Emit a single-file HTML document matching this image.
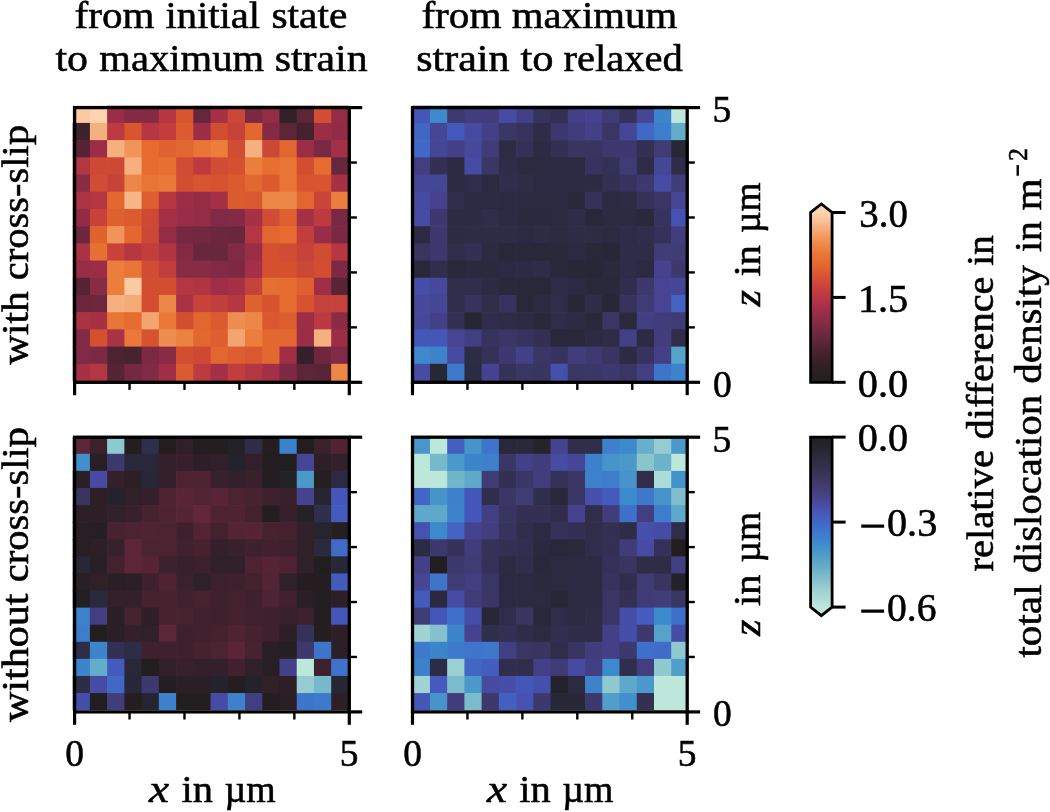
<!DOCTYPE html>
<html><head><meta charset="utf-8"><title>figure</title>
<style>html,body{margin:0;padding:0;background:#fff}svg{display:block}text{font-family:"Liberation Serif",serif;fill:#000;stroke:#000;stroke-width:0.55px}</style></head>
<body>
<svg width="1050" height="812" viewBox="0 0 1050 812">
<rect width="1050" height="812" fill="#fff"/>
<defs>
<linearGradient id="gf" x1="0" y1="0" x2="0" y2="1"><stop offset="0.000" stop-color="#fdd3b0"/><stop offset="0.025" stop-color="#fbcaa4"/><stop offset="0.050" stop-color="#f9c097"/><stop offset="0.075" stop-color="#f7b688"/><stop offset="0.100" stop-color="#f5ab78"/><stop offset="0.125" stop-color="#f3a068"/><stop offset="0.150" stop-color="#f19659"/><stop offset="0.175" stop-color="#f08e4f"/><stop offset="0.200" stop-color="#ee8545"/><stop offset="0.225" stop-color="#ec7d3d"/><stop offset="0.250" stop-color="#e97535"/><stop offset="0.275" stop-color="#e77032"/><stop offset="0.300" stop-color="#e56a30"/><stop offset="0.325" stop-color="#e26231"/><stop offset="0.350" stop-color="#de5a32"/><stop offset="0.375" stop-color="#d95235"/><stop offset="0.400" stop-color="#d44b38"/><stop offset="0.425" stop-color="#ce453b"/><stop offset="0.450" stop-color="#c93f3e"/><stop offset="0.475" stop-color="#c23b43"/><stop offset="0.500" stop-color="#bb3748"/><stop offset="0.525" stop-color="#b23348"/><stop offset="0.550" stop-color="#a92f49"/><stop offset="0.575" stop-color="#a12e49"/><stop offset="0.600" stop-color="#982c49"/><stop offset="0.625" stop-color="#8e2c48"/><stop offset="0.650" stop-color="#852b46"/><stop offset="0.675" stop-color="#7c2a44"/><stop offset="0.700" stop-color="#722a41"/><stop offset="0.725" stop-color="#69283e"/><stop offset="0.750" stop-color="#60273a"/><stop offset="0.775" stop-color="#582636"/><stop offset="0.800" stop-color="#4f2432"/><stop offset="0.825" stop-color="#47232e"/><stop offset="0.850" stop-color="#3f222b"/><stop offset="0.875" stop-color="#382128"/><stop offset="0.900" stop-color="#322025"/><stop offset="0.925" stop-color="#2d2023"/><stop offset="0.950" stop-color="#282021"/><stop offset="0.975" stop-color="#242020"/><stop offset="1.000" stop-color="#211f1f"/></linearGradient>
<linearGradient id="gi" x1="0" y1="0" x2="0" y2="1"><stop offset="0.000" stop-color="#222124"/><stop offset="0.025" stop-color="#242228"/><stop offset="0.050" stop-color="#25242c"/><stop offset="0.075" stop-color="#282632"/><stop offset="0.100" stop-color="#2a2937"/><stop offset="0.125" stop-color="#2d2c3e"/><stop offset="0.150" stop-color="#302e45"/><stop offset="0.175" stop-color="#33304c"/><stop offset="0.200" stop-color="#363353"/><stop offset="0.225" stop-color="#39365a"/><stop offset="0.250" stop-color="#3c3862"/><stop offset="0.275" stop-color="#403a6b"/><stop offset="0.300" stop-color="#433d74"/><stop offset="0.325" stop-color="#46407f"/><stop offset="0.350" stop-color="#48438a"/><stop offset="0.375" stop-color="#494897"/><stop offset="0.400" stop-color="#4a4ca4"/><stop offset="0.425" stop-color="#4852b0"/><stop offset="0.450" stop-color="#4659bb"/><stop offset="0.475" stop-color="#4460c0"/><stop offset="0.500" stop-color="#4166c6"/><stop offset="0.525" stop-color="#3e6eca"/><stop offset="0.550" stop-color="#3c76cd"/><stop offset="0.575" stop-color="#3c7dcd"/><stop offset="0.600" stop-color="#3b84cd"/><stop offset="0.625" stop-color="#3f8acc"/><stop offset="0.650" stop-color="#4391cb"/><stop offset="0.675" stop-color="#4a97ca"/><stop offset="0.700" stop-color="#529dc9"/><stop offset="0.725" stop-color="#5aa3c9"/><stop offset="0.750" stop-color="#63a9c9"/><stop offset="0.775" stop-color="#6cafca"/><stop offset="0.800" stop-color="#76b5ca"/><stop offset="0.825" stop-color="#80bccc"/><stop offset="0.850" stop-color="#8bc2cd"/><stop offset="0.875" stop-color="#95c9d0"/><stop offset="0.900" stop-color="#9fd0d2"/><stop offset="0.925" stop-color="#a6d6d4"/><stop offset="0.950" stop-color="#aedbd7"/><stop offset="0.975" stop-color="#b6e1d9"/><stop offset="1.000" stop-color="#bde7db"/></linearGradient>
</defs>
<g>
<rect x="72.66" y="105.70" width="17.94" height="17.91" fill="#fbc9a2"/>
<rect x="89.90" y="105.70" width="17.94" height="17.91" fill="#fdd3b0"/>
<rect x="107.13" y="105.70" width="17.94" height="17.91" fill="#9c2d47"/>
<rect x="124.37" y="105.70" width="17.94" height="17.91" fill="#842a45"/>
<rect x="141.60" y="105.70" width="17.94" height="17.91" fill="#842a45"/>
<rect x="158.84" y="105.70" width="17.94" height="17.91" fill="#b63742"/>
<rect x="176.08" y="105.70" width="17.94" height="17.91" fill="#d8552f"/>
<rect x="193.31" y="105.70" width="17.94" height="17.91" fill="#66263c"/>
<rect x="210.55" y="105.70" width="17.94" height="17.91" fill="#a63145"/>
<rect x="227.78" y="105.70" width="17.94" height="17.91" fill="#cb4736"/>
<rect x="245.02" y="105.70" width="17.94" height="17.91" fill="#7a2944"/>
<rect x="262.26" y="105.70" width="17.94" height="17.91" fill="#952c46"/>
<rect x="279.49" y="105.70" width="17.94" height="17.91" fill="#302028"/>
<rect x="296.73" y="105.70" width="17.94" height="17.91" fill="#5d2538"/>
<rect x="313.96" y="105.70" width="17.94" height="17.91" fill="#d34e31"/>
<rect x="331.20" y="105.70" width="17.24" height="17.91" fill="#952c46"/>
<rect x="72.66" y="122.91" width="17.94" height="17.91" fill="#3d212c"/>
<rect x="89.90" y="122.91" width="17.94" height="17.91" fill="#f6b080"/>
<rect x="107.13" y="122.91" width="17.94" height="17.91" fill="#bd3a41"/>
<rect x="124.37" y="122.91" width="17.94" height="17.91" fill="#d8552f"/>
<rect x="141.60" y="122.91" width="17.94" height="17.91" fill="#b63742"/>
<rect x="158.84" y="122.91" width="17.94" height="17.91" fill="#c23e3d"/>
<rect x="176.08" y="122.91" width="17.94" height="17.91" fill="#db5b2f"/>
<rect x="193.31" y="122.91" width="17.94" height="17.91" fill="#9c2d47"/>
<rect x="210.55" y="122.91" width="17.94" height="17.91" fill="#d34e31"/>
<rect x="227.78" y="122.91" width="17.94" height="17.91" fill="#c7433a"/>
<rect x="245.02" y="122.91" width="17.94" height="17.91" fill="#e3682f"/>
<rect x="262.26" y="122.91" width="17.94" height="17.91" fill="#842a45"/>
<rect x="279.49" y="122.91" width="17.94" height="17.91" fill="#5d2538"/>
<rect x="296.73" y="122.91" width="17.94" height="17.91" fill="#43222e"/>
<rect x="313.96" y="122.91" width="17.94" height="17.91" fill="#9c2d47"/>
<rect x="331.20" y="122.91" width="17.24" height="17.91" fill="#922c46"/>
<rect x="72.66" y="140.11" width="17.94" height="17.91" fill="#562435"/>
<rect x="89.90" y="140.11" width="17.94" height="17.91" fill="#9c2d47"/>
<rect x="107.13" y="140.11" width="17.94" height="17.91" fill="#f6b080"/>
<rect x="124.37" y="140.11" width="17.94" height="17.91" fill="#f09459"/>
<rect x="141.60" y="140.11" width="17.94" height="17.91" fill="#e56b2f"/>
<rect x="158.84" y="140.11" width="17.94" height="17.91" fill="#e0632f"/>
<rect x="176.08" y="140.11" width="17.94" height="17.91" fill="#e2662f"/>
<rect x="193.31" y="140.11" width="17.94" height="17.91" fill="#e87436"/>
<rect x="210.55" y="140.11" width="17.94" height="17.91" fill="#eb7d3d"/>
<rect x="227.78" y="140.11" width="17.94" height="17.91" fill="#d04c33"/>
<rect x="245.02" y="140.11" width="17.94" height="17.91" fill="#f6b080"/>
<rect x="262.26" y="140.11" width="17.94" height="17.91" fill="#cb4736"/>
<rect x="279.49" y="140.11" width="17.94" height="17.91" fill="#e2662f"/>
<rect x="296.73" y="140.11" width="17.94" height="17.91" fill="#9c2d47"/>
<rect x="313.96" y="140.11" width="17.94" height="17.91" fill="#7a2944"/>
<rect x="331.20" y="140.11" width="17.24" height="17.91" fill="#a33046"/>
<rect x="72.66" y="157.32" width="17.94" height="17.91" fill="#b33643"/>
<rect x="89.90" y="157.32" width="17.94" height="17.91" fill="#ce4934"/>
<rect x="107.13" y="157.32" width="17.94" height="17.91" fill="#ce4934"/>
<rect x="124.37" y="157.32" width="17.94" height="17.91" fill="#f6b080"/>
<rect x="141.60" y="157.32" width="17.94" height="17.91" fill="#e56b2f"/>
<rect x="158.84" y="157.32" width="17.94" height="17.91" fill="#e66f32"/>
<rect x="176.08" y="157.32" width="17.94" height="17.91" fill="#d04c33"/>
<rect x="193.31" y="157.32" width="17.94" height="17.91" fill="#bd3a41"/>
<rect x="210.55" y="157.32" width="17.94" height="17.91" fill="#d04c33"/>
<rect x="227.78" y="157.32" width="17.94" height="17.91" fill="#d5502f"/>
<rect x="245.02" y="157.32" width="17.94" height="17.91" fill="#eb7d3d"/>
<rect x="262.26" y="157.32" width="17.94" height="17.91" fill="#e66f32"/>
<rect x="279.49" y="157.32" width="17.94" height="17.91" fill="#e87436"/>
<rect x="296.73" y="157.32" width="17.94" height="17.91" fill="#d34e31"/>
<rect x="313.96" y="157.32" width="17.94" height="17.91" fill="#e56b2f"/>
<rect x="331.20" y="157.32" width="17.24" height="17.91" fill="#66263c"/>
<rect x="72.66" y="174.53" width="17.94" height="17.91" fill="#8b2b46"/>
<rect x="89.90" y="174.53" width="17.94" height="17.91" fill="#d04c33"/>
<rect x="107.13" y="174.53" width="17.94" height="17.91" fill="#c7433a"/>
<rect x="124.37" y="174.53" width="17.94" height="17.91" fill="#ed8748"/>
<rect x="141.60" y="174.53" width="17.94" height="17.91" fill="#e87436"/>
<rect x="158.84" y="174.53" width="17.94" height="17.91" fill="#e97839"/>
<rect x="176.08" y="174.53" width="17.94" height="17.91" fill="#d34e31"/>
<rect x="193.31" y="174.53" width="17.94" height="17.91" fill="#d8552f"/>
<rect x="210.55" y="174.53" width="17.94" height="17.91" fill="#d7532f"/>
<rect x="227.78" y="174.53" width="17.94" height="17.91" fill="#db5b2f"/>
<rect x="245.02" y="174.53" width="17.94" height="17.91" fill="#e3682f"/>
<rect x="262.26" y="174.53" width="17.94" height="17.91" fill="#db5b2f"/>
<rect x="279.49" y="174.53" width="17.94" height="17.91" fill="#e87436"/>
<rect x="296.73" y="174.53" width="17.94" height="17.91" fill="#d8552f"/>
<rect x="313.96" y="174.53" width="17.94" height="17.91" fill="#d8552f"/>
<rect x="331.20" y="174.53" width="17.24" height="17.91" fill="#a63145"/>
<rect x="72.66" y="191.74" width="17.94" height="17.91" fill="#ac3444"/>
<rect x="89.90" y="191.74" width="17.94" height="17.91" fill="#b33643"/>
<rect x="107.13" y="191.74" width="17.94" height="17.91" fill="#e3682f"/>
<rect x="124.37" y="191.74" width="17.94" height="17.91" fill="#f7b687"/>
<rect x="141.60" y="191.74" width="17.94" height="17.91" fill="#dd5e2f"/>
<rect x="158.84" y="191.74" width="17.94" height="17.91" fill="#b63742"/>
<rect x="176.08" y="191.74" width="17.94" height="17.91" fill="#9c2d47"/>
<rect x="193.31" y="191.74" width="17.94" height="17.91" fill="#952c46"/>
<rect x="210.55" y="191.74" width="17.94" height="17.91" fill="#a33046"/>
<rect x="227.78" y="191.74" width="17.94" height="17.91" fill="#db5b2f"/>
<rect x="245.02" y="191.74" width="17.94" height="17.91" fill="#da582f"/>
<rect x="262.26" y="191.74" width="17.94" height="17.91" fill="#ed8748"/>
<rect x="279.49" y="191.74" width="17.94" height="17.91" fill="#ed8748"/>
<rect x="296.73" y="191.74" width="17.94" height="17.91" fill="#e2662f"/>
<rect x="313.96" y="191.74" width="17.94" height="17.91" fill="#c94538"/>
<rect x="331.20" y="191.74" width="17.24" height="17.91" fill="#eb7d3d"/>
<rect x="72.66" y="208.94" width="17.94" height="17.91" fill="#922c46"/>
<rect x="89.90" y="208.94" width="17.94" height="17.91" fill="#c7433a"/>
<rect x="107.13" y="208.94" width="17.94" height="17.91" fill="#df602f"/>
<rect x="124.37" y="208.94" width="17.94" height="17.91" fill="#db5b2f"/>
<rect x="141.60" y="208.94" width="17.94" height="17.91" fill="#ce4934"/>
<rect x="158.84" y="208.94" width="17.94" height="17.91" fill="#a33046"/>
<rect x="176.08" y="208.94" width="17.94" height="17.91" fill="#992d47"/>
<rect x="193.31" y="208.94" width="17.94" height="17.91" fill="#952c46"/>
<rect x="210.55" y="208.94" width="17.94" height="17.91" fill="#812a45"/>
<rect x="227.78" y="208.94" width="17.94" height="17.91" fill="#842a45"/>
<rect x="245.02" y="208.94" width="17.94" height="17.91" fill="#a63145"/>
<rect x="262.26" y="208.94" width="17.94" height="17.91" fill="#d04c33"/>
<rect x="279.49" y="208.94" width="17.94" height="17.91" fill="#df602f"/>
<rect x="296.73" y="208.94" width="17.94" height="17.91" fill="#a63145"/>
<rect x="313.96" y="208.94" width="17.94" height="17.91" fill="#bd3a41"/>
<rect x="331.20" y="208.94" width="17.24" height="17.91" fill="#7a2944"/>
<rect x="72.66" y="226.15" width="17.94" height="17.91" fill="#6c273e"/>
<rect x="89.90" y="226.15" width="17.94" height="17.91" fill="#e0632f"/>
<rect x="107.13" y="226.15" width="17.94" height="17.91" fill="#f09459"/>
<rect x="124.37" y="226.15" width="17.94" height="17.91" fill="#e3682f"/>
<rect x="141.60" y="226.15" width="17.94" height="17.91" fill="#cb4736"/>
<rect x="158.84" y="226.15" width="17.94" height="17.91" fill="#952c46"/>
<rect x="176.08" y="226.15" width="17.94" height="17.91" fill="#742842"/>
<rect x="193.31" y="226.15" width="17.94" height="17.91" fill="#712840"/>
<rect x="210.55" y="226.15" width="17.94" height="17.91" fill="#6c273e"/>
<rect x="227.78" y="226.15" width="17.94" height="17.91" fill="#69273d"/>
<rect x="245.02" y="226.15" width="17.94" height="17.91" fill="#b33643"/>
<rect x="262.26" y="226.15" width="17.94" height="17.91" fill="#e2662f"/>
<rect x="279.49" y="226.15" width="17.94" height="17.91" fill="#e56b2f"/>
<rect x="296.73" y="226.15" width="17.94" height="17.91" fill="#c23e3d"/>
<rect x="313.96" y="226.15" width="17.94" height="17.91" fill="#992d47"/>
<rect x="331.20" y="226.15" width="17.24" height="17.91" fill="#7a2944"/>
<rect x="72.66" y="243.36" width="17.94" height="17.91" fill="#a93245"/>
<rect x="89.90" y="243.36" width="17.94" height="17.91" fill="#e66f32"/>
<rect x="107.13" y="243.36" width="17.94" height="17.91" fill="#c7433a"/>
<rect x="124.37" y="243.36" width="17.94" height="17.91" fill="#b63742"/>
<rect x="141.60" y="243.36" width="17.94" height="17.91" fill="#c23e3d"/>
<rect x="158.84" y="243.36" width="17.94" height="17.91" fill="#b03543"/>
<rect x="176.08" y="243.36" width="17.94" height="17.91" fill="#842a45"/>
<rect x="193.31" y="243.36" width="17.94" height="17.91" fill="#69273d"/>
<rect x="210.55" y="243.36" width="17.94" height="17.91" fill="#69273d"/>
<rect x="227.78" y="243.36" width="17.94" height="17.91" fill="#812a45"/>
<rect x="245.02" y="243.36" width="17.94" height="17.91" fill="#9c2d47"/>
<rect x="262.26" y="243.36" width="17.94" height="17.91" fill="#d5502f"/>
<rect x="279.49" y="243.36" width="17.94" height="17.91" fill="#d04c33"/>
<rect x="296.73" y="243.36" width="17.94" height="17.91" fill="#c7433a"/>
<rect x="313.96" y="243.36" width="17.94" height="17.91" fill="#d04c33"/>
<rect x="331.20" y="243.36" width="17.24" height="17.91" fill="#b63742"/>
<rect x="72.66" y="260.56" width="17.94" height="17.91" fill="#992d47"/>
<rect x="89.90" y="260.56" width="17.94" height="17.91" fill="#9c2d47"/>
<rect x="107.13" y="260.56" width="17.94" height="17.91" fill="#eb7d3d"/>
<rect x="124.37" y="260.56" width="17.94" height="17.91" fill="#e87436"/>
<rect x="141.60" y="260.56" width="17.94" height="17.91" fill="#d04c33"/>
<rect x="158.84" y="260.56" width="17.94" height="17.91" fill="#c23e3d"/>
<rect x="176.08" y="260.56" width="17.94" height="17.91" fill="#882b45"/>
<rect x="193.31" y="260.56" width="17.94" height="17.91" fill="#882b45"/>
<rect x="210.55" y="260.56" width="17.94" height="17.91" fill="#812a45"/>
<rect x="227.78" y="260.56" width="17.94" height="17.91" fill="#7d2944"/>
<rect x="245.02" y="260.56" width="17.94" height="17.91" fill="#a33046"/>
<rect x="262.26" y="260.56" width="17.94" height="17.91" fill="#d5502f"/>
<rect x="279.49" y="260.56" width="17.94" height="17.91" fill="#d5502f"/>
<rect x="296.73" y="260.56" width="17.94" height="17.91" fill="#cb4736"/>
<rect x="313.96" y="260.56" width="17.94" height="17.91" fill="#d34e31"/>
<rect x="331.20" y="260.56" width="17.24" height="17.91" fill="#7d2944"/>
<rect x="72.66" y="277.77" width="17.94" height="17.91" fill="#562435"/>
<rect x="89.90" y="277.77" width="17.94" height="17.91" fill="#882b45"/>
<rect x="107.13" y="277.77" width="17.94" height="17.91" fill="#eb7d3d"/>
<rect x="124.37" y="277.77" width="17.94" height="17.91" fill="#fbc9a2"/>
<rect x="141.60" y="277.77" width="17.94" height="17.91" fill="#d34e31"/>
<rect x="158.84" y="277.77" width="17.94" height="17.91" fill="#d34e31"/>
<rect x="176.08" y="277.77" width="17.94" height="17.91" fill="#b33643"/>
<rect x="193.31" y="277.77" width="17.94" height="17.91" fill="#b03543"/>
<rect x="210.55" y="277.77" width="17.94" height="17.91" fill="#9f2e46"/>
<rect x="227.78" y="277.77" width="17.94" height="17.91" fill="#a63145"/>
<rect x="245.02" y="277.77" width="17.94" height="17.91" fill="#c4413c"/>
<rect x="262.26" y="277.77" width="17.94" height="17.91" fill="#e66f32"/>
<rect x="279.49" y="277.77" width="17.94" height="17.91" fill="#e56b2f"/>
<rect x="296.73" y="277.77" width="17.94" height="17.91" fill="#df602f"/>
<rect x="313.96" y="277.77" width="17.94" height="17.91" fill="#9f2e46"/>
<rect x="331.20" y="277.77" width="17.24" height="17.91" fill="#592436"/>
<rect x="72.66" y="294.98" width="17.94" height="17.91" fill="#6c273e"/>
<rect x="89.90" y="294.98" width="17.94" height="17.91" fill="#6e273f"/>
<rect x="107.13" y="294.98" width="17.94" height="17.91" fill="#f6b080"/>
<rect x="124.37" y="294.98" width="17.94" height="17.91" fill="#f4ab78"/>
<rect x="141.60" y="294.98" width="17.94" height="17.91" fill="#d34e31"/>
<rect x="158.84" y="294.98" width="17.94" height="17.91" fill="#ed8748"/>
<rect x="176.08" y="294.98" width="17.94" height="17.91" fill="#a93245"/>
<rect x="193.31" y="294.98" width="17.94" height="17.91" fill="#c7433a"/>
<rect x="210.55" y="294.98" width="17.94" height="17.91" fill="#c23e3d"/>
<rect x="227.78" y="294.98" width="17.94" height="17.91" fill="#b63742"/>
<rect x="245.02" y="294.98" width="17.94" height="17.91" fill="#e0632f"/>
<rect x="262.26" y="294.98" width="17.94" height="17.91" fill="#d7532f"/>
<rect x="279.49" y="294.98" width="17.94" height="17.91" fill="#e56b2f"/>
<rect x="296.73" y="294.98" width="17.94" height="17.91" fill="#d7532f"/>
<rect x="313.96" y="294.98" width="17.94" height="17.91" fill="#c4413c"/>
<rect x="331.20" y="294.98" width="17.24" height="17.91" fill="#c4413c"/>
<rect x="72.66" y="312.18" width="17.94" height="17.91" fill="#a93245"/>
<rect x="89.90" y="312.18" width="17.94" height="17.91" fill="#a63145"/>
<rect x="107.13" y="312.18" width="17.94" height="17.91" fill="#e87436"/>
<rect x="124.37" y="312.18" width="17.94" height="17.91" fill="#e56b2f"/>
<rect x="141.60" y="312.18" width="17.94" height="17.91" fill="#f3a571"/>
<rect x="158.84" y="312.18" width="17.94" height="17.91" fill="#e97839"/>
<rect x="176.08" y="312.18" width="17.94" height="17.91" fill="#d34e31"/>
<rect x="193.31" y="312.18" width="17.94" height="17.91" fill="#e2662f"/>
<rect x="210.55" y="312.18" width="17.94" height="17.91" fill="#db5b2f"/>
<rect x="227.78" y="312.18" width="17.94" height="17.91" fill="#ee8d51"/>
<rect x="245.02" y="312.18" width="17.94" height="17.91" fill="#ed8748"/>
<rect x="262.26" y="312.18" width="17.94" height="17.91" fill="#da582f"/>
<rect x="279.49" y="312.18" width="17.94" height="17.91" fill="#dd5e2f"/>
<rect x="296.73" y="312.18" width="17.94" height="17.91" fill="#9c2d47"/>
<rect x="313.96" y="312.18" width="17.94" height="17.91" fill="#ba3942"/>
<rect x="331.20" y="312.18" width="17.24" height="17.91" fill="#8b2b46"/>
<rect x="72.66" y="329.39" width="17.94" height="17.91" fill="#812a45"/>
<rect x="89.90" y="329.39" width="17.94" height="17.91" fill="#d5502f"/>
<rect x="107.13" y="329.39" width="17.94" height="17.91" fill="#a93245"/>
<rect x="124.37" y="329.39" width="17.94" height="17.91" fill="#e97839"/>
<rect x="141.60" y="329.39" width="17.94" height="17.91" fill="#d7532f"/>
<rect x="158.84" y="329.39" width="17.94" height="17.91" fill="#ee8d51"/>
<rect x="176.08" y="329.39" width="17.94" height="17.91" fill="#ec8140"/>
<rect x="193.31" y="329.39" width="17.94" height="17.91" fill="#e3682f"/>
<rect x="210.55" y="329.39" width="17.94" height="17.91" fill="#dd5e2f"/>
<rect x="227.78" y="329.39" width="17.94" height="17.91" fill="#f3a571"/>
<rect x="245.02" y="329.39" width="17.94" height="17.91" fill="#eb7d3d"/>
<rect x="262.26" y="329.39" width="17.94" height="17.91" fill="#e3682f"/>
<rect x="279.49" y="329.39" width="17.94" height="17.91" fill="#e3682f"/>
<rect x="296.73" y="329.39" width="17.94" height="17.91" fill="#9c2d47"/>
<rect x="313.96" y="329.39" width="17.94" height="17.91" fill="#f6b080"/>
<rect x="331.20" y="329.39" width="17.24" height="17.91" fill="#9c2d47"/>
<rect x="72.66" y="346.60" width="17.94" height="17.91" fill="#812a45"/>
<rect x="89.90" y="346.60" width="17.94" height="17.91" fill="#7d2944"/>
<rect x="107.13" y="346.60" width="17.94" height="17.91" fill="#4b2331"/>
<rect x="124.37" y="346.60" width="17.94" height="17.91" fill="#47222f"/>
<rect x="141.60" y="346.60" width="17.94" height="17.91" fill="#7d2944"/>
<rect x="158.84" y="346.60" width="17.94" height="17.91" fill="#882b45"/>
<rect x="176.08" y="346.60" width="17.94" height="17.91" fill="#d34e31"/>
<rect x="193.31" y="346.60" width="17.94" height="17.91" fill="#ce4934"/>
<rect x="210.55" y="346.60" width="17.94" height="17.91" fill="#e2662f"/>
<rect x="227.78" y="346.60" width="17.94" height="17.91" fill="#dd5e2f"/>
<rect x="245.02" y="346.60" width="17.94" height="17.91" fill="#da582f"/>
<rect x="262.26" y="346.60" width="17.94" height="17.91" fill="#e3682f"/>
<rect x="279.49" y="346.60" width="17.94" height="17.91" fill="#9f2e46"/>
<rect x="296.73" y="346.60" width="17.94" height="17.91" fill="#33202a"/>
<rect x="313.96" y="346.60" width="17.94" height="17.91" fill="#6e273f"/>
<rect x="331.20" y="346.60" width="17.24" height="17.91" fill="#812a45"/>
<rect x="72.66" y="363.81" width="17.94" height="17.21" fill="#a63145"/>
<rect x="89.90" y="363.81" width="17.94" height="17.21" fill="#b33643"/>
<rect x="107.13" y="363.81" width="17.94" height="17.21" fill="#562435"/>
<rect x="124.37" y="363.81" width="17.94" height="17.21" fill="#742842"/>
<rect x="141.60" y="363.81" width="17.94" height="17.21" fill="#812a45"/>
<rect x="158.84" y="363.81" width="17.94" height="17.21" fill="#9f2e46"/>
<rect x="176.08" y="363.81" width="17.94" height="17.21" fill="#db5b2f"/>
<rect x="193.31" y="363.81" width="17.94" height="17.21" fill="#bd3a41"/>
<rect x="210.55" y="363.81" width="17.94" height="17.21" fill="#a33046"/>
<rect x="227.78" y="363.81" width="17.94" height="17.21" fill="#c23e3d"/>
<rect x="245.02" y="363.81" width="17.94" height="17.21" fill="#b33643"/>
<rect x="262.26" y="363.81" width="17.94" height="17.21" fill="#a33046"/>
<rect x="279.49" y="363.81" width="17.94" height="17.21" fill="#7d2944"/>
<rect x="296.73" y="363.81" width="17.94" height="17.21" fill="#5d2538"/>
<rect x="313.96" y="363.81" width="17.94" height="17.21" fill="#592436"/>
<rect x="331.20" y="363.81" width="17.24" height="17.21" fill="#ed8748"/>
</g>
<line x1="74.60" y1="382.30" x2="74.60" y2="395.20" stroke="#000" stroke-width="3.2"/>
<line x1="349.30" y1="382.30" x2="362.20" y2="382.30" stroke="#000" stroke-width="3.2"/>
<line x1="129.54" y1="382.30" x2="129.54" y2="389.90" stroke="#000" stroke-width="2.4"/>
<line x1="349.30" y1="327.36" x2="356.90" y2="327.36" stroke="#000" stroke-width="2.4"/>
<line x1="184.48" y1="382.30" x2="184.48" y2="389.90" stroke="#000" stroke-width="2.4"/>
<line x1="349.30" y1="272.42" x2="356.90" y2="272.42" stroke="#000" stroke-width="2.4"/>
<line x1="239.42" y1="382.30" x2="239.42" y2="389.90" stroke="#000" stroke-width="2.4"/>
<line x1="349.30" y1="217.48" x2="356.90" y2="217.48" stroke="#000" stroke-width="2.4"/>
<line x1="294.36" y1="382.30" x2="294.36" y2="389.90" stroke="#000" stroke-width="2.4"/>
<line x1="349.30" y1="162.54" x2="356.90" y2="162.54" stroke="#000" stroke-width="2.4"/>
<line x1="349.30" y1="382.30" x2="349.30" y2="395.20" stroke="#000" stroke-width="3.2"/>
<line x1="349.30" y1="107.60" x2="362.20" y2="107.60" stroke="#000" stroke-width="3.2"/>
<rect x="74.6" y="107.6" width="274.7" height="274.7" fill="none" stroke="#000" stroke-width="3.3"/>
<g>
<rect x="412.70" y="105.70" width="17.94" height="17.91" fill="#4556b9"/>
<rect x="429.94" y="105.70" width="17.94" height="17.91" fill="#3c8acb"/>
<rect x="447.17" y="105.70" width="17.94" height="17.91" fill="#3e3a71"/>
<rect x="464.41" y="105.70" width="17.94" height="17.91" fill="#423e7e"/>
<rect x="481.64" y="105.70" width="17.94" height="17.91" fill="#413d7b"/>
<rect x="498.88" y="105.70" width="17.94" height="17.91" fill="#464ca4"/>
<rect x="516.12" y="105.70" width="17.94" height="17.91" fill="#444088"/>
<rect x="533.35" y="105.70" width="17.94" height="17.91" fill="#36345e"/>
<rect x="550.59" y="105.70" width="17.94" height="17.91" fill="#333054"/>
<rect x="567.82" y="105.70" width="17.94" height="17.91" fill="#444088"/>
<rect x="585.06" y="105.70" width="17.94" height="17.91" fill="#46428f"/>
<rect x="602.30" y="105.70" width="17.94" height="17.91" fill="#3f3b75"/>
<rect x="619.53" y="105.70" width="17.94" height="17.91" fill="#35325a"/>
<rect x="636.77" y="105.70" width="17.94" height="17.91" fill="#464697"/>
<rect x="654.00" y="105.70" width="17.94" height="17.91" fill="#3d85cb"/>
<rect x="671.24" y="105.70" width="17.24" height="17.91" fill="#bde7db"/>
<rect x="412.70" y="122.91" width="17.94" height="17.91" fill="#4166c4"/>
<rect x="429.94" y="122.91" width="17.94" height="17.91" fill="#464697"/>
<rect x="447.17" y="122.91" width="17.94" height="17.91" fill="#4459bb"/>
<rect x="464.41" y="122.91" width="17.94" height="17.91" fill="#464aa0"/>
<rect x="481.64" y="122.91" width="17.94" height="17.91" fill="#444088"/>
<rect x="498.88" y="122.91" width="17.94" height="17.91" fill="#3a3767"/>
<rect x="516.12" y="122.91" width="17.94" height="17.91" fill="#36345e"/>
<rect x="533.35" y="122.91" width="17.94" height="17.91" fill="#2e2c47"/>
<rect x="550.59" y="122.91" width="17.94" height="17.91" fill="#3d396e"/>
<rect x="567.82" y="122.91" width="17.94" height="17.91" fill="#413d7b"/>
<rect x="585.06" y="122.91" width="17.94" height="17.91" fill="#444088"/>
<rect x="602.30" y="122.91" width="17.94" height="17.91" fill="#393664"/>
<rect x="619.53" y="122.91" width="17.94" height="17.91" fill="#464697"/>
<rect x="636.77" y="122.91" width="17.94" height="17.91" fill="#4168c6"/>
<rect x="654.00" y="122.91" width="17.94" height="17.91" fill="#3e7dcb"/>
<rect x="671.24" y="122.91" width="17.24" height="17.91" fill="#63acca"/>
<rect x="412.70" y="140.11" width="17.94" height="17.91" fill="#4168c6"/>
<rect x="429.94" y="140.11" width="17.94" height="17.91" fill="#464697"/>
<rect x="447.17" y="140.11" width="17.94" height="17.91" fill="#444088"/>
<rect x="464.41" y="140.11" width="17.94" height="17.91" fill="#46489c"/>
<rect x="481.64" y="140.11" width="17.94" height="17.91" fill="#403c78"/>
<rect x="498.88" y="140.11" width="17.94" height="17.91" fill="#2d2c45"/>
<rect x="516.12" y="140.11" width="17.94" height="17.91" fill="#343157"/>
<rect x="533.35" y="140.11" width="17.94" height="17.91" fill="#2c2b44"/>
<rect x="550.59" y="140.11" width="17.94" height="17.91" fill="#333054"/>
<rect x="567.82" y="140.11" width="17.94" height="17.91" fill="#383561"/>
<rect x="585.06" y="140.11" width="17.94" height="17.91" fill="#383561"/>
<rect x="602.30" y="140.11" width="17.94" height="17.91" fill="#3d396e"/>
<rect x="619.53" y="140.11" width="17.94" height="17.91" fill="#3d396e"/>
<rect x="636.77" y="140.11" width="17.94" height="17.91" fill="#333054"/>
<rect x="654.00" y="140.11" width="17.94" height="17.91" fill="#3f3b75"/>
<rect x="671.24" y="140.11" width="17.24" height="17.91" fill="#282736"/>
<rect x="412.70" y="157.32" width="17.94" height="17.91" fill="#423e82"/>
<rect x="429.94" y="157.32" width="17.94" height="17.91" fill="#333054"/>
<rect x="447.17" y="157.32" width="17.94" height="17.91" fill="#2c2a42"/>
<rect x="464.41" y="157.32" width="17.94" height="17.91" fill="#464ca4"/>
<rect x="481.64" y="157.32" width="17.94" height="17.91" fill="#3a3767"/>
<rect x="498.88" y="157.32" width="17.94" height="17.91" fill="#2e2c47"/>
<rect x="516.12" y="157.32" width="17.94" height="17.91" fill="#2b2a40"/>
<rect x="533.35" y="157.32" width="17.94" height="17.91" fill="#2c2a42"/>
<rect x="550.59" y="157.32" width="17.94" height="17.91" fill="#2c2b44"/>
<rect x="567.82" y="157.32" width="17.94" height="17.91" fill="#2c2a42"/>
<rect x="585.06" y="157.32" width="17.94" height="17.91" fill="#36345e"/>
<rect x="602.30" y="157.32" width="17.94" height="17.91" fill="#343157"/>
<rect x="619.53" y="157.32" width="17.94" height="17.91" fill="#3f3b75"/>
<rect x="636.77" y="157.32" width="17.94" height="17.91" fill="#2e2c47"/>
<rect x="654.00" y="157.32" width="17.94" height="17.91" fill="#464697"/>
<rect x="671.24" y="157.32" width="17.24" height="17.91" fill="#2e2c47"/>
<rect x="412.70" y="174.53" width="17.94" height="17.91" fill="#464697"/>
<rect x="429.94" y="174.53" width="17.94" height="17.91" fill="#464697"/>
<rect x="447.17" y="174.53" width="17.94" height="17.91" fill="#2c2b44"/>
<rect x="464.41" y="174.53" width="17.94" height="17.91" fill="#2f2d4b"/>
<rect x="481.64" y="174.53" width="17.94" height="17.91" fill="#2b2a40"/>
<rect x="498.88" y="174.53" width="17.94" height="17.91" fill="#302e4d"/>
<rect x="516.12" y="174.53" width="17.94" height="17.91" fill="#2e2c47"/>
<rect x="533.35" y="174.53" width="17.94" height="17.91" fill="#2c2a42"/>
<rect x="550.59" y="174.53" width="17.94" height="17.91" fill="#2c2b44"/>
<rect x="567.82" y="174.53" width="17.94" height="17.91" fill="#2c2a42"/>
<rect x="585.06" y="174.53" width="17.94" height="17.91" fill="#2c2b44"/>
<rect x="602.30" y="174.53" width="17.94" height="17.91" fill="#333054"/>
<rect x="619.53" y="174.53" width="17.94" height="17.91" fill="#36345e"/>
<rect x="636.77" y="174.53" width="17.94" height="17.91" fill="#3d396e"/>
<rect x="654.00" y="174.53" width="17.94" height="17.91" fill="#464ca4"/>
<rect x="671.24" y="174.53" width="17.24" height="17.91" fill="#403c78"/>
<rect x="412.70" y="191.74" width="17.94" height="17.91" fill="#464aa0"/>
<rect x="429.94" y="191.74" width="17.94" height="17.91" fill="#46428f"/>
<rect x="447.17" y="191.74" width="17.94" height="17.91" fill="#302e4d"/>
<rect x="464.41" y="191.74" width="17.94" height="17.91" fill="#2c2b44"/>
<rect x="481.64" y="191.74" width="17.94" height="17.91" fill="#2c2b44"/>
<rect x="498.88" y="191.74" width="17.94" height="17.91" fill="#2c2a42"/>
<rect x="516.12" y="191.74" width="17.94" height="17.91" fill="#2c2a42"/>
<rect x="533.35" y="191.74" width="17.94" height="17.91" fill="#2b2a40"/>
<rect x="550.59" y="191.74" width="17.94" height="17.91" fill="#2c2a42"/>
<rect x="567.82" y="191.74" width="17.94" height="17.91" fill="#2a293c"/>
<rect x="585.06" y="191.74" width="17.94" height="17.91" fill="#35325a"/>
<rect x="602.30" y="191.74" width="17.94" height="17.91" fill="#2c2a42"/>
<rect x="619.53" y="191.74" width="17.94" height="17.91" fill="#2d2c45"/>
<rect x="636.77" y="191.74" width="17.94" height="17.91" fill="#35325a"/>
<rect x="654.00" y="191.74" width="17.94" height="17.91" fill="#393664"/>
<rect x="671.24" y="191.74" width="17.24" height="17.91" fill="#464493"/>
<rect x="412.70" y="208.94" width="17.94" height="17.91" fill="#464ca4"/>
<rect x="429.94" y="208.94" width="17.94" height="17.91" fill="#3d396e"/>
<rect x="447.17" y="208.94" width="17.94" height="17.91" fill="#2c2b44"/>
<rect x="464.41" y="208.94" width="17.94" height="17.91" fill="#2c2b44"/>
<rect x="481.64" y="208.94" width="17.94" height="17.91" fill="#2f2d49"/>
<rect x="498.88" y="208.94" width="17.94" height="17.91" fill="#2c2a42"/>
<rect x="516.12" y="208.94" width="17.94" height="17.91" fill="#2a293e"/>
<rect x="533.35" y="208.94" width="17.94" height="17.91" fill="#2a293e"/>
<rect x="550.59" y="208.94" width="17.94" height="17.91" fill="#2b2a40"/>
<rect x="567.82" y="208.94" width="17.94" height="17.91" fill="#2e2c47"/>
<rect x="585.06" y="208.94" width="17.94" height="17.91" fill="#29283a"/>
<rect x="602.30" y="208.94" width="17.94" height="17.91" fill="#2b2a40"/>
<rect x="619.53" y="208.94" width="17.94" height="17.91" fill="#2b2a40"/>
<rect x="636.77" y="208.94" width="17.94" height="17.91" fill="#2a293c"/>
<rect x="654.00" y="208.94" width="17.94" height="17.91" fill="#36345e"/>
<rect x="671.24" y="208.94" width="17.24" height="17.91" fill="#4552b1"/>
<rect x="412.70" y="226.15" width="17.94" height="17.91" fill="#2c2a42"/>
<rect x="429.94" y="226.15" width="17.94" height="17.91" fill="#3d396e"/>
<rect x="447.17" y="226.15" width="17.94" height="17.91" fill="#2c2b44"/>
<rect x="464.41" y="226.15" width="17.94" height="17.91" fill="#2d2c45"/>
<rect x="481.64" y="226.15" width="17.94" height="17.91" fill="#2d2c45"/>
<rect x="498.88" y="226.15" width="17.94" height="17.91" fill="#2d2c45"/>
<rect x="516.12" y="226.15" width="17.94" height="17.91" fill="#2c2a42"/>
<rect x="533.35" y="226.15" width="17.94" height="17.91" fill="#2d2c45"/>
<rect x="550.59" y="226.15" width="17.94" height="17.91" fill="#2b2a40"/>
<rect x="567.82" y="226.15" width="17.94" height="17.91" fill="#2d2c45"/>
<rect x="585.06" y="226.15" width="17.94" height="17.91" fill="#2d2c45"/>
<rect x="602.30" y="226.15" width="17.94" height="17.91" fill="#2b2a40"/>
<rect x="619.53" y="226.15" width="17.94" height="17.91" fill="#2e2c47"/>
<rect x="636.77" y="226.15" width="17.94" height="17.91" fill="#302e4d"/>
<rect x="654.00" y="226.15" width="17.94" height="17.91" fill="#35325a"/>
<rect x="671.24" y="226.15" width="17.24" height="17.91" fill="#423e7e"/>
<rect x="412.70" y="243.36" width="17.94" height="17.91" fill="#383561"/>
<rect x="429.94" y="243.36" width="17.94" height="17.91" fill="#3d396e"/>
<rect x="447.17" y="243.36" width="17.94" height="17.91" fill="#2f2d49"/>
<rect x="464.41" y="243.36" width="17.94" height="17.91" fill="#333054"/>
<rect x="481.64" y="243.36" width="17.94" height="17.91" fill="#2b2a40"/>
<rect x="498.88" y="243.36" width="17.94" height="17.91" fill="#29283a"/>
<rect x="516.12" y="243.36" width="17.94" height="17.91" fill="#29283a"/>
<rect x="533.35" y="243.36" width="17.94" height="17.91" fill="#29283a"/>
<rect x="550.59" y="243.36" width="17.94" height="17.91" fill="#2a293c"/>
<rect x="567.82" y="243.36" width="17.94" height="17.91" fill="#2c2a42"/>
<rect x="585.06" y="243.36" width="17.94" height="17.91" fill="#29283a"/>
<rect x="602.30" y="243.36" width="17.94" height="17.91" fill="#282738"/>
<rect x="619.53" y="243.36" width="17.94" height="17.91" fill="#2e2c47"/>
<rect x="636.77" y="243.36" width="17.94" height="17.91" fill="#2e2c47"/>
<rect x="654.00" y="243.36" width="17.94" height="17.91" fill="#403c78"/>
<rect x="671.24" y="243.36" width="17.24" height="17.91" fill="#3f3b75"/>
<rect x="412.70" y="260.56" width="17.94" height="17.91" fill="#29283a"/>
<rect x="429.94" y="260.56" width="17.94" height="17.91" fill="#302e4d"/>
<rect x="447.17" y="260.56" width="17.94" height="17.91" fill="#29283a"/>
<rect x="464.41" y="260.56" width="17.94" height="17.91" fill="#2a293e"/>
<rect x="481.64" y="260.56" width="17.94" height="17.91" fill="#2a293e"/>
<rect x="498.88" y="260.56" width="17.94" height="17.91" fill="#2c2a42"/>
<rect x="516.12" y="260.56" width="17.94" height="17.91" fill="#2c2b44"/>
<rect x="533.35" y="260.56" width="17.94" height="17.91" fill="#2e2c47"/>
<rect x="550.59" y="260.56" width="17.94" height="17.91" fill="#2a293c"/>
<rect x="567.82" y="260.56" width="17.94" height="17.91" fill="#282738"/>
<rect x="585.06" y="260.56" width="17.94" height="17.91" fill="#282738"/>
<rect x="602.30" y="260.56" width="17.94" height="17.91" fill="#2a293e"/>
<rect x="619.53" y="260.56" width="17.94" height="17.91" fill="#2e2c47"/>
<rect x="636.77" y="260.56" width="17.94" height="17.91" fill="#2b2a40"/>
<rect x="654.00" y="260.56" width="17.94" height="17.91" fill="#46428f"/>
<rect x="671.24" y="260.56" width="17.24" height="17.91" fill="#3d396e"/>
<rect x="412.70" y="277.77" width="17.94" height="17.91" fill="#454ea8"/>
<rect x="429.94" y="277.77" width="17.94" height="17.91" fill="#46489c"/>
<rect x="447.17" y="277.77" width="17.94" height="17.91" fill="#2f2d49"/>
<rect x="464.41" y="277.77" width="17.94" height="17.91" fill="#302e4d"/>
<rect x="481.64" y="277.77" width="17.94" height="17.91" fill="#2c2b44"/>
<rect x="498.88" y="277.77" width="17.94" height="17.91" fill="#2a293c"/>
<rect x="516.12" y="277.77" width="17.94" height="17.91" fill="#29283a"/>
<rect x="533.35" y="277.77" width="17.94" height="17.91" fill="#29283a"/>
<rect x="550.59" y="277.77" width="17.94" height="17.91" fill="#2e2c47"/>
<rect x="567.82" y="277.77" width="17.94" height="17.91" fill="#2c2a42"/>
<rect x="585.06" y="277.77" width="17.94" height="17.91" fill="#2a293c"/>
<rect x="602.30" y="277.77" width="17.94" height="17.91" fill="#2a293c"/>
<rect x="619.53" y="277.77" width="17.94" height="17.91" fill="#302e4d"/>
<rect x="636.77" y="277.77" width="17.94" height="17.91" fill="#3d396e"/>
<rect x="654.00" y="277.77" width="17.94" height="17.91" fill="#464493"/>
<rect x="671.24" y="277.77" width="17.24" height="17.91" fill="#464697"/>
<rect x="412.70" y="294.98" width="17.94" height="17.91" fill="#46489c"/>
<rect x="429.94" y="294.98" width="17.94" height="17.91" fill="#464697"/>
<rect x="447.17" y="294.98" width="17.94" height="17.91" fill="#2f2d49"/>
<rect x="464.41" y="294.98" width="17.94" height="17.91" fill="#36345e"/>
<rect x="481.64" y="294.98" width="17.94" height="17.91" fill="#2f2d49"/>
<rect x="498.88" y="294.98" width="17.94" height="17.91" fill="#36345e"/>
<rect x="516.12" y="294.98" width="17.94" height="17.91" fill="#29283a"/>
<rect x="533.35" y="294.98" width="17.94" height="17.91" fill="#2b2a40"/>
<rect x="550.59" y="294.98" width="17.94" height="17.91" fill="#2f2d49"/>
<rect x="567.82" y="294.98" width="17.94" height="17.91" fill="#282738"/>
<rect x="585.06" y="294.98" width="17.94" height="17.91" fill="#2e2c47"/>
<rect x="602.30" y="294.98" width="17.94" height="17.91" fill="#282738"/>
<rect x="619.53" y="294.98" width="17.94" height="17.91" fill="#36345e"/>
<rect x="636.77" y="294.98" width="17.94" height="17.91" fill="#3f3b75"/>
<rect x="654.00" y="294.98" width="17.94" height="17.91" fill="#464493"/>
<rect x="671.24" y="294.98" width="17.24" height="17.91" fill="#4263c2"/>
<rect x="412.70" y="312.18" width="17.94" height="17.91" fill="#46489c"/>
<rect x="429.94" y="312.18" width="17.94" height="17.91" fill="#444088"/>
<rect x="447.17" y="312.18" width="17.94" height="17.91" fill="#333054"/>
<rect x="464.41" y="312.18" width="17.94" height="17.91" fill="#272634"/>
<rect x="481.64" y="312.18" width="17.94" height="17.91" fill="#2f2d4b"/>
<rect x="498.88" y="312.18" width="17.94" height="17.91" fill="#2e2c47"/>
<rect x="516.12" y="312.18" width="17.94" height="17.91" fill="#2c2b44"/>
<rect x="533.35" y="312.18" width="17.94" height="17.91" fill="#2a293c"/>
<rect x="550.59" y="312.18" width="17.94" height="17.91" fill="#2f2d49"/>
<rect x="567.82" y="312.18" width="17.94" height="17.91" fill="#2c2b44"/>
<rect x="585.06" y="312.18" width="17.94" height="17.91" fill="#2a293c"/>
<rect x="602.30" y="312.18" width="17.94" height="17.91" fill="#393664"/>
<rect x="619.53" y="312.18" width="17.94" height="17.91" fill="#2a293e"/>
<rect x="636.77" y="312.18" width="17.94" height="17.91" fill="#433f85"/>
<rect x="654.00" y="312.18" width="17.94" height="17.91" fill="#413d7b"/>
<rect x="671.24" y="312.18" width="17.24" height="17.91" fill="#3f3b75"/>
<rect x="412.70" y="329.39" width="17.94" height="17.91" fill="#4556b9"/>
<rect x="429.94" y="329.39" width="17.94" height="17.91" fill="#4556b9"/>
<rect x="447.17" y="329.39" width="17.94" height="17.91" fill="#464493"/>
<rect x="464.41" y="329.39" width="17.94" height="17.91" fill="#423e82"/>
<rect x="481.64" y="329.39" width="17.94" height="17.91" fill="#36345e"/>
<rect x="498.88" y="329.39" width="17.94" height="17.91" fill="#3a3767"/>
<rect x="516.12" y="329.39" width="17.94" height="17.91" fill="#36345e"/>
<rect x="533.35" y="329.39" width="17.94" height="17.91" fill="#333054"/>
<rect x="550.59" y="329.39" width="17.94" height="17.91" fill="#29283a"/>
<rect x="567.82" y="329.39" width="17.94" height="17.91" fill="#29283a"/>
<rect x="585.06" y="329.39" width="17.94" height="17.91" fill="#2c2a42"/>
<rect x="602.30" y="329.39" width="17.94" height="17.91" fill="#2e2c47"/>
<rect x="619.53" y="329.39" width="17.94" height="17.91" fill="#444088"/>
<rect x="636.77" y="329.39" width="17.94" height="17.91" fill="#2c2b44"/>
<rect x="654.00" y="329.39" width="17.94" height="17.91" fill="#423e7e"/>
<rect x="671.24" y="329.39" width="17.24" height="17.91" fill="#2f2d49"/>
<rect x="412.70" y="346.60" width="17.94" height="17.91" fill="#3c8acb"/>
<rect x="429.94" y="346.60" width="17.94" height="17.91" fill="#3d82cb"/>
<rect x="447.17" y="346.60" width="17.94" height="17.91" fill="#464aa0"/>
<rect x="464.41" y="346.60" width="17.94" height="17.91" fill="#2d2c45"/>
<rect x="481.64" y="346.60" width="17.94" height="17.91" fill="#35325a"/>
<rect x="498.88" y="346.60" width="17.94" height="17.91" fill="#3d396e"/>
<rect x="516.12" y="346.60" width="17.94" height="17.91" fill="#444088"/>
<rect x="533.35" y="346.60" width="17.94" height="17.91" fill="#3a3767"/>
<rect x="550.59" y="346.60" width="17.94" height="17.91" fill="#36345e"/>
<rect x="567.82" y="346.60" width="17.94" height="17.91" fill="#413d7b"/>
<rect x="585.06" y="346.60" width="17.94" height="17.91" fill="#3e3a71"/>
<rect x="602.30" y="346.60" width="17.94" height="17.91" fill="#383561"/>
<rect x="619.53" y="346.60" width="17.94" height="17.91" fill="#2c2b44"/>
<rect x="636.77" y="346.60" width="17.94" height="17.91" fill="#36345e"/>
<rect x="654.00" y="346.60" width="17.94" height="17.91" fill="#444088"/>
<rect x="671.24" y="346.60" width="17.24" height="17.91" fill="#55a3c9"/>
<rect x="412.70" y="363.81" width="17.94" height="17.21" fill="#464ca4"/>
<rect x="429.94" y="363.81" width="17.94" height="17.21" fill="#282736"/>
<rect x="447.17" y="363.81" width="17.94" height="17.21" fill="#3e7acb"/>
<rect x="464.41" y="363.81" width="17.94" height="17.21" fill="#2c2b44"/>
<rect x="481.64" y="363.81" width="17.94" height="17.21" fill="#46428f"/>
<rect x="498.88" y="363.81" width="17.94" height="17.21" fill="#35325a"/>
<rect x="516.12" y="363.81" width="17.94" height="17.21" fill="#393664"/>
<rect x="533.35" y="363.81" width="17.94" height="17.21" fill="#383561"/>
<rect x="550.59" y="363.81" width="17.94" height="17.21" fill="#4550ac"/>
<rect x="567.82" y="363.81" width="17.94" height="17.21" fill="#393664"/>
<rect x="585.06" y="363.81" width="17.94" height="17.21" fill="#3a3767"/>
<rect x="602.30" y="363.81" width="17.94" height="17.21" fill="#3d396e"/>
<rect x="619.53" y="363.81" width="17.94" height="17.21" fill="#393664"/>
<rect x="636.77" y="363.81" width="17.94" height="17.21" fill="#423e82"/>
<rect x="654.00" y="363.81" width="17.94" height="17.21" fill="#3e75cb"/>
<rect x="671.24" y="363.81" width="17.24" height="17.21" fill="#3d82cb"/>
</g>
<line x1="412.50" y1="382.30" x2="412.50" y2="395.20" stroke="#000" stroke-width="3.2"/>
<line x1="687.20" y1="382.30" x2="700.10" y2="382.30" stroke="#000" stroke-width="3.2"/>
<line x1="467.44" y1="382.30" x2="467.44" y2="389.90" stroke="#000" stroke-width="2.4"/>
<line x1="687.20" y1="327.36" x2="694.80" y2="327.36" stroke="#000" stroke-width="2.4"/>
<line x1="522.38" y1="382.30" x2="522.38" y2="389.90" stroke="#000" stroke-width="2.4"/>
<line x1="687.20" y1="272.42" x2="694.80" y2="272.42" stroke="#000" stroke-width="2.4"/>
<line x1="577.32" y1="382.30" x2="577.32" y2="389.90" stroke="#000" stroke-width="2.4"/>
<line x1="687.20" y1="217.48" x2="694.80" y2="217.48" stroke="#000" stroke-width="2.4"/>
<line x1="632.26" y1="382.30" x2="632.26" y2="389.90" stroke="#000" stroke-width="2.4"/>
<line x1="687.20" y1="162.54" x2="694.80" y2="162.54" stroke="#000" stroke-width="2.4"/>
<line x1="687.20" y1="382.30" x2="687.20" y2="395.20" stroke="#000" stroke-width="3.2"/>
<line x1="687.20" y1="107.60" x2="700.10" y2="107.60" stroke="#000" stroke-width="3.2"/>
<rect x="412.5" y="107.6" width="274.7" height="274.7" fill="none" stroke="#000" stroke-width="3.3"/>
<g>
<rect x="72.66" y="436.70" width="17.94" height="17.79" fill="#5d2538"/>
<rect x="89.90" y="436.70" width="17.94" height="17.79" fill="#3b212c"/>
<rect x="107.13" y="436.70" width="17.94" height="17.79" fill="#8fc9d0"/>
<rect x="124.37" y="436.70" width="17.94" height="17.79" fill="#241e21"/>
<rect x="141.60" y="436.70" width="17.94" height="17.79" fill="#302e4d"/>
<rect x="158.84" y="436.70" width="17.94" height="17.79" fill="#241e21"/>
<rect x="176.08" y="436.70" width="17.94" height="17.79" fill="#302028"/>
<rect x="193.31" y="436.70" width="17.94" height="17.79" fill="#241e21"/>
<rect x="210.55" y="436.70" width="17.94" height="17.79" fill="#241e21"/>
<rect x="227.78" y="436.70" width="17.94" height="17.79" fill="#232227"/>
<rect x="245.02" y="436.70" width="17.94" height="17.79" fill="#2e2c47"/>
<rect x="262.26" y="436.70" width="17.94" height="17.79" fill="#241e21"/>
<rect x="279.49" y="436.70" width="17.94" height="17.79" fill="#3d80cb"/>
<rect x="296.73" y="436.70" width="17.94" height="17.79" fill="#221e20"/>
<rect x="313.96" y="436.70" width="17.94" height="17.79" fill="#3b212c"/>
<rect x="331.20" y="436.70" width="17.24" height="17.79" fill="#502333"/>
<rect x="72.66" y="453.79" width="17.94" height="17.79" fill="#418fcb"/>
<rect x="89.90" y="453.79" width="17.94" height="17.79" fill="#271f23"/>
<rect x="107.13" y="453.79" width="17.94" height="17.79" fill="#3d396e"/>
<rect x="124.37" y="453.79" width="17.94" height="17.79" fill="#29283a"/>
<rect x="141.60" y="453.79" width="17.94" height="17.79" fill="#29283a"/>
<rect x="158.84" y="453.79" width="17.94" height="17.79" fill="#33202a"/>
<rect x="176.08" y="453.79" width="17.94" height="17.79" fill="#37202b"/>
<rect x="193.31" y="453.79" width="17.94" height="17.79" fill="#2e1f27"/>
<rect x="210.55" y="453.79" width="17.94" height="17.79" fill="#312029"/>
<rect x="227.78" y="453.79" width="17.94" height="17.79" fill="#24232b"/>
<rect x="245.02" y="453.79" width="17.94" height="17.79" fill="#312029"/>
<rect x="262.26" y="453.79" width="17.94" height="17.79" fill="#221e20"/>
<rect x="279.49" y="453.79" width="17.94" height="17.79" fill="#221e20"/>
<rect x="296.73" y="453.79" width="17.94" height="17.79" fill="#464697"/>
<rect x="313.96" y="453.79" width="17.94" height="17.79" fill="#2e1f27"/>
<rect x="331.20" y="453.79" width="17.24" height="17.79" fill="#33202a"/>
<rect x="72.66" y="470.88" width="17.94" height="17.79" fill="#2a1f25"/>
<rect x="89.90" y="470.88" width="17.94" height="17.79" fill="#464aa0"/>
<rect x="107.13" y="470.88" width="17.94" height="17.79" fill="#33202a"/>
<rect x="124.37" y="470.88" width="17.94" height="17.79" fill="#2e1f27"/>
<rect x="141.60" y="470.88" width="17.94" height="17.79" fill="#282738"/>
<rect x="158.84" y="470.88" width="17.94" height="17.79" fill="#33202a"/>
<rect x="176.08" y="470.88" width="17.94" height="17.79" fill="#502333"/>
<rect x="193.31" y="470.88" width="17.94" height="17.79" fill="#4e2332"/>
<rect x="210.55" y="470.88" width="17.94" height="17.79" fill="#39212c"/>
<rect x="227.78" y="470.88" width="17.94" height="17.79" fill="#312029"/>
<rect x="245.02" y="470.88" width="17.94" height="17.79" fill="#39212c"/>
<rect x="262.26" y="470.88" width="17.94" height="17.79" fill="#221e20"/>
<rect x="279.49" y="470.88" width="17.94" height="17.79" fill="#232227"/>
<rect x="296.73" y="470.88" width="17.94" height="17.79" fill="#4b99ca"/>
<rect x="313.96" y="470.88" width="17.94" height="17.79" fill="#251e22"/>
<rect x="331.20" y="470.88" width="17.24" height="17.79" fill="#2c2a42"/>
<rect x="72.66" y="487.97" width="17.94" height="17.79" fill="#383561"/>
<rect x="89.90" y="487.97" width="17.94" height="17.79" fill="#2e1f27"/>
<rect x="107.13" y="487.97" width="17.94" height="17.79" fill="#24232b"/>
<rect x="124.37" y="487.97" width="17.94" height="17.79" fill="#302028"/>
<rect x="141.60" y="487.97" width="17.94" height="17.79" fill="#33202a"/>
<rect x="158.84" y="487.97" width="17.94" height="17.79" fill="#502333"/>
<rect x="176.08" y="487.97" width="17.94" height="17.79" fill="#592436"/>
<rect x="193.31" y="487.97" width="17.94" height="17.79" fill="#522434"/>
<rect x="210.55" y="487.97" width="17.94" height="17.79" fill="#592436"/>
<rect x="227.78" y="487.97" width="17.94" height="17.79" fill="#4b2331"/>
<rect x="245.02" y="487.97" width="17.94" height="17.79" fill="#47222f"/>
<rect x="262.26" y="487.97" width="17.94" height="17.79" fill="#3f212d"/>
<rect x="279.49" y="487.97" width="17.94" height="17.79" fill="#39212c"/>
<rect x="296.73" y="487.97" width="17.94" height="17.79" fill="#46428f"/>
<rect x="313.96" y="487.97" width="17.94" height="17.79" fill="#262532"/>
<rect x="331.20" y="487.97" width="17.24" height="17.79" fill="#4556b9"/>
<rect x="72.66" y="505.06" width="17.94" height="17.79" fill="#2c1f26"/>
<rect x="89.90" y="505.06" width="17.94" height="17.79" fill="#2c1f26"/>
<rect x="107.13" y="505.06" width="17.94" height="17.79" fill="#302028"/>
<rect x="124.37" y="505.06" width="17.94" height="17.79" fill="#39212c"/>
<rect x="141.60" y="505.06" width="17.94" height="17.79" fill="#47222f"/>
<rect x="158.84" y="505.06" width="17.94" height="17.79" fill="#502333"/>
<rect x="176.08" y="505.06" width="17.94" height="17.79" fill="#562435"/>
<rect x="193.31" y="505.06" width="17.94" height="17.79" fill="#63263a"/>
<rect x="210.55" y="505.06" width="17.94" height="17.79" fill="#502333"/>
<rect x="227.78" y="505.06" width="17.94" height="17.79" fill="#502333"/>
<rect x="245.02" y="505.06" width="17.94" height="17.79" fill="#43222e"/>
<rect x="262.26" y="505.06" width="17.94" height="17.79" fill="#241e21"/>
<rect x="279.49" y="505.06" width="17.94" height="17.79" fill="#37202b"/>
<rect x="296.73" y="505.06" width="17.94" height="17.79" fill="#232227"/>
<rect x="313.96" y="505.06" width="17.94" height="17.79" fill="#302e4d"/>
<rect x="331.20" y="505.06" width="17.24" height="17.79" fill="#445bbd"/>
<rect x="72.66" y="522.15" width="17.94" height="17.79" fill="#271f23"/>
<rect x="89.90" y="522.15" width="17.94" height="17.79" fill="#251e22"/>
<rect x="107.13" y="522.15" width="17.94" height="17.79" fill="#47222f"/>
<rect x="124.37" y="522.15" width="17.94" height="17.79" fill="#4b2331"/>
<rect x="141.60" y="522.15" width="17.94" height="17.79" fill="#4e2332"/>
<rect x="158.84" y="522.15" width="17.94" height="17.79" fill="#4b2331"/>
<rect x="176.08" y="522.15" width="17.94" height="17.79" fill="#3d212c"/>
<rect x="193.31" y="522.15" width="17.94" height="17.79" fill="#522434"/>
<rect x="210.55" y="522.15" width="17.94" height="17.79" fill="#43222e"/>
<rect x="227.78" y="522.15" width="17.94" height="17.79" fill="#522434"/>
<rect x="245.02" y="522.15" width="17.94" height="17.79" fill="#562435"/>
<rect x="262.26" y="522.15" width="17.94" height="17.79" fill="#47222f"/>
<rect x="279.49" y="522.15" width="17.94" height="17.79" fill="#43222e"/>
<rect x="296.73" y="522.15" width="17.94" height="17.79" fill="#312029"/>
<rect x="313.96" y="522.15" width="17.94" height="17.79" fill="#262430"/>
<rect x="331.20" y="522.15" width="17.24" height="17.79" fill="#251e22"/>
<rect x="72.66" y="539.24" width="17.94" height="17.79" fill="#271f23"/>
<rect x="89.90" y="539.24" width="17.94" height="17.79" fill="#2c1f26"/>
<rect x="107.13" y="539.24" width="17.94" height="17.79" fill="#39212c"/>
<rect x="124.37" y="539.24" width="17.94" height="17.79" fill="#5d2538"/>
<rect x="141.60" y="539.24" width="17.94" height="17.79" fill="#4b2331"/>
<rect x="158.84" y="539.24" width="17.94" height="17.79" fill="#4b2331"/>
<rect x="176.08" y="539.24" width="17.94" height="17.79" fill="#41212e"/>
<rect x="193.31" y="539.24" width="17.94" height="17.79" fill="#45222e"/>
<rect x="210.55" y="539.24" width="17.94" height="17.79" fill="#33202a"/>
<rect x="227.78" y="539.24" width="17.94" height="17.79" fill="#39212c"/>
<rect x="245.02" y="539.24" width="17.94" height="17.79" fill="#3f212d"/>
<rect x="262.26" y="539.24" width="17.94" height="17.79" fill="#41212e"/>
<rect x="279.49" y="539.24" width="17.94" height="17.79" fill="#3f212d"/>
<rect x="296.73" y="539.24" width="17.94" height="17.79" fill="#302028"/>
<rect x="313.96" y="539.24" width="17.94" height="17.79" fill="#2a293e"/>
<rect x="331.20" y="539.24" width="17.24" height="17.79" fill="#406bc7"/>
<rect x="72.66" y="556.33" width="17.94" height="17.79" fill="#282736"/>
<rect x="89.90" y="556.33" width="17.94" height="17.79" fill="#2a1f25"/>
<rect x="107.13" y="556.33" width="17.94" height="17.79" fill="#43222e"/>
<rect x="124.37" y="556.33" width="17.94" height="17.79" fill="#5d2538"/>
<rect x="141.60" y="556.33" width="17.94" height="17.79" fill="#562435"/>
<rect x="158.84" y="556.33" width="17.94" height="17.79" fill="#3d212c"/>
<rect x="176.08" y="556.33" width="17.94" height="17.79" fill="#39212c"/>
<rect x="193.31" y="556.33" width="17.94" height="17.79" fill="#3b212c"/>
<rect x="210.55" y="556.33" width="17.94" height="17.79" fill="#312029"/>
<rect x="227.78" y="556.33" width="17.94" height="17.79" fill="#312029"/>
<rect x="245.02" y="556.33" width="17.94" height="17.79" fill="#4b2331"/>
<rect x="262.26" y="556.33" width="17.94" height="17.79" fill="#562435"/>
<rect x="279.49" y="556.33" width="17.94" height="17.79" fill="#502333"/>
<rect x="296.73" y="556.33" width="17.94" height="17.79" fill="#302028"/>
<rect x="313.96" y="556.33" width="17.94" height="17.79" fill="#221e20"/>
<rect x="331.20" y="556.33" width="17.24" height="17.79" fill="#282738"/>
<rect x="72.66" y="573.42" width="17.94" height="17.79" fill="#2a1f25"/>
<rect x="89.90" y="573.42" width="17.94" height="17.79" fill="#302028"/>
<rect x="107.13" y="573.42" width="17.94" height="17.79" fill="#2a1f25"/>
<rect x="124.37" y="573.42" width="17.94" height="17.79" fill="#2c1f26"/>
<rect x="141.60" y="573.42" width="17.94" height="17.79" fill="#3d212c"/>
<rect x="158.84" y="573.42" width="17.94" height="17.79" fill="#502333"/>
<rect x="176.08" y="573.42" width="17.94" height="17.79" fill="#3b212c"/>
<rect x="193.31" y="573.42" width="17.94" height="17.79" fill="#302028"/>
<rect x="210.55" y="573.42" width="17.94" height="17.79" fill="#3b212c"/>
<rect x="227.78" y="573.42" width="17.94" height="17.79" fill="#3d212c"/>
<rect x="245.02" y="573.42" width="17.94" height="17.79" fill="#43222e"/>
<rect x="262.26" y="573.42" width="17.94" height="17.79" fill="#522434"/>
<rect x="279.49" y="573.42" width="17.94" height="17.79" fill="#302028"/>
<rect x="296.73" y="573.42" width="17.94" height="17.79" fill="#241e21"/>
<rect x="313.96" y="573.42" width="17.94" height="17.79" fill="#241e21"/>
<rect x="331.20" y="573.42" width="17.24" height="17.79" fill="#445bbd"/>
<rect x="72.66" y="590.51" width="17.94" height="17.79" fill="#251e22"/>
<rect x="89.90" y="590.51" width="17.94" height="17.79" fill="#2a293e"/>
<rect x="107.13" y="590.51" width="17.94" height="17.79" fill="#33202a"/>
<rect x="124.37" y="590.51" width="17.94" height="17.79" fill="#33202a"/>
<rect x="141.60" y="590.51" width="17.94" height="17.79" fill="#45222e"/>
<rect x="158.84" y="590.51" width="17.94" height="17.79" fill="#47222f"/>
<rect x="176.08" y="590.51" width="17.94" height="17.79" fill="#41212e"/>
<rect x="193.31" y="590.51" width="17.94" height="17.79" fill="#47222f"/>
<rect x="210.55" y="590.51" width="17.94" height="17.79" fill="#3f212d"/>
<rect x="227.78" y="590.51" width="17.94" height="17.79" fill="#43222e"/>
<rect x="245.02" y="590.51" width="17.94" height="17.79" fill="#3f212d"/>
<rect x="262.26" y="590.51" width="17.94" height="17.79" fill="#4e2332"/>
<rect x="279.49" y="590.51" width="17.94" height="17.79" fill="#41212e"/>
<rect x="296.73" y="590.51" width="17.94" height="17.79" fill="#2a1f25"/>
<rect x="313.96" y="590.51" width="17.94" height="17.79" fill="#241e21"/>
<rect x="331.20" y="590.51" width="17.24" height="17.79" fill="#2c1f26"/>
<rect x="72.66" y="607.60" width="17.94" height="17.79" fill="#3d82cb"/>
<rect x="89.90" y="607.60" width="17.94" height="17.79" fill="#423e82"/>
<rect x="107.13" y="607.60" width="17.94" height="17.79" fill="#291f24"/>
<rect x="124.37" y="607.60" width="17.94" height="17.79" fill="#47222f"/>
<rect x="141.60" y="607.60" width="17.94" height="17.79" fill="#2e1f27"/>
<rect x="158.84" y="607.60" width="17.94" height="17.79" fill="#492230"/>
<rect x="176.08" y="607.60" width="17.94" height="17.79" fill="#47222f"/>
<rect x="193.31" y="607.60" width="17.94" height="17.79" fill="#41212e"/>
<rect x="210.55" y="607.60" width="17.94" height="17.79" fill="#3f212d"/>
<rect x="227.78" y="607.60" width="17.94" height="17.79" fill="#43222e"/>
<rect x="245.02" y="607.60" width="17.94" height="17.79" fill="#41212e"/>
<rect x="262.26" y="607.60" width="17.94" height="17.79" fill="#3f212d"/>
<rect x="279.49" y="607.60" width="17.94" height="17.79" fill="#39212c"/>
<rect x="296.73" y="607.60" width="17.94" height="17.79" fill="#3d212c"/>
<rect x="313.96" y="607.60" width="17.94" height="17.79" fill="#241e21"/>
<rect x="331.20" y="607.60" width="17.24" height="17.79" fill="#4556b9"/>
<rect x="72.66" y="624.69" width="17.94" height="17.79" fill="#3e7dcb"/>
<rect x="89.90" y="624.69" width="17.94" height="17.79" fill="#221e20"/>
<rect x="107.13" y="624.69" width="17.94" height="17.79" fill="#2a1f25"/>
<rect x="124.37" y="624.69" width="17.94" height="17.79" fill="#33202a"/>
<rect x="141.60" y="624.69" width="17.94" height="17.79" fill="#302028"/>
<rect x="158.84" y="624.69" width="17.94" height="17.79" fill="#5d2538"/>
<rect x="176.08" y="624.69" width="17.94" height="17.79" fill="#3f212d"/>
<rect x="193.31" y="624.69" width="17.94" height="17.79" fill="#41212e"/>
<rect x="210.55" y="624.69" width="17.94" height="17.79" fill="#43222e"/>
<rect x="227.78" y="624.69" width="17.94" height="17.79" fill="#502333"/>
<rect x="245.02" y="624.69" width="17.94" height="17.79" fill="#45222e"/>
<rect x="262.26" y="624.69" width="17.94" height="17.79" fill="#3d212c"/>
<rect x="279.49" y="624.69" width="17.94" height="17.79" fill="#2c1f26"/>
<rect x="296.73" y="624.69" width="17.94" height="17.79" fill="#35325a"/>
<rect x="313.96" y="624.69" width="17.94" height="17.79" fill="#241e21"/>
<rect x="331.20" y="624.69" width="17.24" height="17.79" fill="#2e1f27"/>
<rect x="72.66" y="641.78" width="17.94" height="17.79" fill="#2e2c47"/>
<rect x="89.90" y="641.78" width="17.94" height="17.79" fill="#3d85cb"/>
<rect x="107.13" y="641.78" width="17.94" height="17.79" fill="#333054"/>
<rect x="124.37" y="641.78" width="17.94" height="17.79" fill="#2e2c47"/>
<rect x="141.60" y="641.78" width="17.94" height="17.79" fill="#3f212d"/>
<rect x="158.84" y="641.78" width="17.94" height="17.79" fill="#3d212c"/>
<rect x="176.08" y="641.78" width="17.94" height="17.79" fill="#3d212c"/>
<rect x="193.31" y="641.78" width="17.94" height="17.79" fill="#45222e"/>
<rect x="210.55" y="641.78" width="17.94" height="17.79" fill="#4b2331"/>
<rect x="227.78" y="641.78" width="17.94" height="17.79" fill="#5b2537"/>
<rect x="245.02" y="641.78" width="17.94" height="17.79" fill="#47222f"/>
<rect x="262.26" y="641.78" width="17.94" height="17.79" fill="#271f23"/>
<rect x="279.49" y="641.78" width="17.94" height="17.79" fill="#251e22"/>
<rect x="296.73" y="641.78" width="17.94" height="17.79" fill="#3d396e"/>
<rect x="313.96" y="641.78" width="17.94" height="17.79" fill="#3e75cb"/>
<rect x="331.20" y="641.78" width="17.24" height="17.79" fill="#2c1f26"/>
<rect x="72.66" y="658.87" width="17.94" height="17.79" fill="#3d85cb"/>
<rect x="89.90" y="658.87" width="17.94" height="17.79" fill="#63acca"/>
<rect x="107.13" y="658.87" width="17.94" height="17.79" fill="#445bbd"/>
<rect x="124.37" y="658.87" width="17.94" height="17.79" fill="#29283a"/>
<rect x="141.60" y="658.87" width="17.94" height="17.79" fill="#221e20"/>
<rect x="158.84" y="658.87" width="17.94" height="17.79" fill="#312029"/>
<rect x="176.08" y="658.87" width="17.94" height="17.79" fill="#39212c"/>
<rect x="193.31" y="658.87" width="17.94" height="17.79" fill="#33202a"/>
<rect x="210.55" y="658.87" width="17.94" height="17.79" fill="#33202a"/>
<rect x="227.78" y="658.87" width="17.94" height="17.79" fill="#41212e"/>
<rect x="245.02" y="658.87" width="17.94" height="17.79" fill="#302028"/>
<rect x="262.26" y="658.87" width="17.94" height="17.79" fill="#271f23"/>
<rect x="279.49" y="658.87" width="17.94" height="17.79" fill="#444088"/>
<rect x="296.73" y="658.87" width="17.94" height="17.79" fill="#bde7db"/>
<rect x="313.96" y="658.87" width="17.94" height="17.79" fill="#3f212d"/>
<rect x="331.20" y="658.87" width="17.24" height="17.79" fill="#3f73cb"/>
<rect x="72.66" y="675.96" width="17.94" height="17.79" fill="#2d2c45"/>
<rect x="89.90" y="675.96" width="17.94" height="17.79" fill="#464ca4"/>
<rect x="107.13" y="675.96" width="17.94" height="17.79" fill="#4168c6"/>
<rect x="124.37" y="675.96" width="17.94" height="17.79" fill="#282738"/>
<rect x="141.60" y="675.96" width="17.94" height="17.79" fill="#3d396e"/>
<rect x="158.84" y="675.96" width="17.94" height="17.79" fill="#241e21"/>
<rect x="176.08" y="675.96" width="17.94" height="17.79" fill="#291f24"/>
<rect x="193.31" y="675.96" width="17.94" height="17.79" fill="#291f24"/>
<rect x="210.55" y="675.96" width="17.94" height="17.79" fill="#24232b"/>
<rect x="227.78" y="675.96" width="17.94" height="17.79" fill="#241e21"/>
<rect x="245.02" y="675.96" width="17.94" height="17.79" fill="#24232b"/>
<rect x="262.26" y="675.96" width="17.94" height="17.79" fill="#302028"/>
<rect x="279.49" y="675.96" width="17.94" height="17.79" fill="#2c1f26"/>
<rect x="296.73" y="675.96" width="17.94" height="17.79" fill="#95ccd1"/>
<rect x="313.96" y="675.96" width="17.94" height="17.79" fill="#76b8cc"/>
<rect x="331.20" y="675.96" width="17.24" height="17.79" fill="#272634"/>
<rect x="72.66" y="693.05" width="17.94" height="17.09" fill="#454ea8"/>
<rect x="89.90" y="693.05" width="17.94" height="17.09" fill="#221e20"/>
<rect x="107.13" y="693.05" width="17.94" height="17.09" fill="#413d7b"/>
<rect x="124.37" y="693.05" width="17.94" height="17.09" fill="#241e21"/>
<rect x="141.60" y="693.05" width="17.94" height="17.09" fill="#262430"/>
<rect x="158.84" y="693.05" width="17.94" height="17.09" fill="#3d80cb"/>
<rect x="176.08" y="693.05" width="17.94" height="17.09" fill="#241e21"/>
<rect x="193.31" y="693.05" width="17.94" height="17.09" fill="#241e21"/>
<rect x="210.55" y="693.05" width="17.94" height="17.09" fill="#464ca4"/>
<rect x="227.78" y="693.05" width="17.94" height="17.09" fill="#3d80cb"/>
<rect x="245.02" y="693.05" width="17.94" height="17.09" fill="#423e82"/>
<rect x="262.26" y="693.05" width="17.94" height="17.09" fill="#241e21"/>
<rect x="279.49" y="693.05" width="17.94" height="17.09" fill="#2a1f25"/>
<rect x="296.73" y="693.05" width="17.94" height="17.09" fill="#3e75cb"/>
<rect x="313.96" y="693.05" width="17.94" height="17.09" fill="#3e7acb"/>
<rect x="331.20" y="693.05" width="17.24" height="17.09" fill="#2c1f26"/>
</g>
<line x1="74.60" y1="711.90" x2="74.60" y2="724.80" stroke="#000" stroke-width="3.2"/>
<line x1="349.30" y1="711.90" x2="362.20" y2="711.90" stroke="#000" stroke-width="3.2"/>
<line x1="129.54" y1="711.90" x2="129.54" y2="719.50" stroke="#000" stroke-width="2.4"/>
<line x1="349.30" y1="656.96" x2="356.90" y2="656.96" stroke="#000" stroke-width="2.4"/>
<line x1="184.48" y1="711.90" x2="184.48" y2="719.50" stroke="#000" stroke-width="2.4"/>
<line x1="349.30" y1="602.02" x2="356.90" y2="602.02" stroke="#000" stroke-width="2.4"/>
<line x1="239.42" y1="711.90" x2="239.42" y2="719.50" stroke="#000" stroke-width="2.4"/>
<line x1="349.30" y1="547.08" x2="356.90" y2="547.08" stroke="#000" stroke-width="2.4"/>
<line x1="294.36" y1="711.90" x2="294.36" y2="719.50" stroke="#000" stroke-width="2.4"/>
<line x1="349.30" y1="492.14" x2="356.90" y2="492.14" stroke="#000" stroke-width="2.4"/>
<line x1="349.30" y1="711.90" x2="349.30" y2="724.80" stroke="#000" stroke-width="3.2"/>
<line x1="349.30" y1="437.20" x2="362.20" y2="437.20" stroke="#000" stroke-width="3.2"/>
<rect x="74.6" y="437.2" width="274.7" height="274.7" fill="none" stroke="#000" stroke-width="3.3"/>
<g>
<rect x="412.70" y="436.70" width="17.94" height="17.79" fill="#4896ca"/>
<rect x="429.94" y="436.70" width="17.94" height="17.79" fill="#bde7db"/>
<rect x="447.17" y="436.70" width="17.94" height="17.79" fill="#4360c0"/>
<rect x="464.41" y="436.70" width="17.94" height="17.79" fill="#4694ca"/>
<rect x="481.64" y="436.70" width="17.94" height="17.79" fill="#3e75cb"/>
<rect x="498.88" y="436.70" width="17.94" height="17.79" fill="#29283a"/>
<rect x="516.12" y="436.70" width="17.94" height="17.79" fill="#2a293c"/>
<rect x="533.35" y="436.70" width="17.94" height="17.79" fill="#25242d"/>
<rect x="550.59" y="436.70" width="17.94" height="17.79" fill="#46428f"/>
<rect x="567.82" y="436.70" width="17.94" height="17.79" fill="#2f2d49"/>
<rect x="585.06" y="436.70" width="17.94" height="17.79" fill="#2f2d49"/>
<rect x="602.30" y="436.70" width="17.94" height="17.79" fill="#3d80cb"/>
<rect x="619.53" y="436.70" width="17.94" height="17.79" fill="#3c8acb"/>
<rect x="636.77" y="436.70" width="17.94" height="17.79" fill="#68afcb"/>
<rect x="654.00" y="436.70" width="17.94" height="17.79" fill="#95ccd1"/>
<rect x="671.24" y="436.70" width="17.24" height="17.79" fill="#4b99ca"/>
<rect x="412.70" y="453.79" width="17.94" height="17.79" fill="#bde7db"/>
<rect x="429.94" y="453.79" width="17.94" height="17.79" fill="#76b8cc"/>
<rect x="447.17" y="453.79" width="17.94" height="17.79" fill="#4b99ca"/>
<rect x="464.41" y="453.79" width="17.94" height="17.79" fill="#3d85cb"/>
<rect x="481.64" y="453.79" width="17.94" height="17.79" fill="#3d80cb"/>
<rect x="498.88" y="453.79" width="17.94" height="17.79" fill="#3a3767"/>
<rect x="516.12" y="453.79" width="17.94" height="17.79" fill="#444088"/>
<rect x="533.35" y="453.79" width="17.94" height="17.79" fill="#413d7b"/>
<rect x="550.59" y="453.79" width="17.94" height="17.79" fill="#464ca4"/>
<rect x="567.82" y="453.79" width="17.94" height="17.79" fill="#464697"/>
<rect x="585.06" y="453.79" width="17.94" height="17.79" fill="#3d80cb"/>
<rect x="602.30" y="453.79" width="17.94" height="17.79" fill="#4694ca"/>
<rect x="619.53" y="453.79" width="17.94" height="17.79" fill="#4b99ca"/>
<rect x="636.77" y="453.79" width="17.94" height="17.79" fill="#8ac5ce"/>
<rect x="654.00" y="453.79" width="17.94" height="17.79" fill="#6cb2cb"/>
<rect x="671.24" y="453.79" width="17.24" height="17.79" fill="#bde7db"/>
<rect x="412.70" y="470.88" width="17.94" height="17.79" fill="#bde7db"/>
<rect x="429.94" y="470.88" width="17.94" height="17.79" fill="#bde7db"/>
<rect x="447.17" y="470.88" width="17.94" height="17.79" fill="#71b5cb"/>
<rect x="464.41" y="470.88" width="17.94" height="17.79" fill="#5ea9ca"/>
<rect x="481.64" y="470.88" width="17.94" height="17.79" fill="#3f3b75"/>
<rect x="498.88" y="470.88" width="17.94" height="17.79" fill="#333054"/>
<rect x="516.12" y="470.88" width="17.94" height="17.79" fill="#3a3767"/>
<rect x="533.35" y="470.88" width="17.94" height="17.79" fill="#423e7e"/>
<rect x="550.59" y="470.88" width="17.94" height="17.79" fill="#35325a"/>
<rect x="567.82" y="470.88" width="17.94" height="17.79" fill="#3a3767"/>
<rect x="585.06" y="470.88" width="17.94" height="17.79" fill="#3d82cb"/>
<rect x="602.30" y="470.88" width="17.94" height="17.79" fill="#3e7dcb"/>
<rect x="619.53" y="470.88" width="17.94" height="17.79" fill="#4694ca"/>
<rect x="636.77" y="470.88" width="17.94" height="17.79" fill="#2f2d49"/>
<rect x="654.00" y="470.88" width="17.94" height="17.79" fill="#acdcd7"/>
<rect x="671.24" y="470.88" width="17.24" height="17.79" fill="#4492ca"/>
<rect x="412.70" y="487.97" width="17.94" height="17.79" fill="#4166c4"/>
<rect x="429.94" y="487.97" width="17.94" height="17.79" fill="#4694ca"/>
<rect x="447.17" y="487.97" width="17.94" height="17.79" fill="#3d80cb"/>
<rect x="464.41" y="487.97" width="17.94" height="17.79" fill="#4556b9"/>
<rect x="481.64" y="487.97" width="17.94" height="17.79" fill="#302e4d"/>
<rect x="498.88" y="487.97" width="17.94" height="17.79" fill="#3a3767"/>
<rect x="516.12" y="487.97" width="17.94" height="17.79" fill="#3f3b75"/>
<rect x="533.35" y="487.97" width="17.94" height="17.79" fill="#302e4d"/>
<rect x="550.59" y="487.97" width="17.94" height="17.79" fill="#29283a"/>
<rect x="567.82" y="487.97" width="17.94" height="17.79" fill="#393664"/>
<rect x="585.06" y="487.97" width="17.94" height="17.79" fill="#4550ac"/>
<rect x="602.30" y="487.97" width="17.94" height="17.79" fill="#445bbd"/>
<rect x="619.53" y="487.97" width="17.94" height="17.79" fill="#3c8acb"/>
<rect x="636.77" y="487.97" width="17.94" height="17.79" fill="#3e78cb"/>
<rect x="654.00" y="487.97" width="17.94" height="17.79" fill="#4694ca"/>
<rect x="671.24" y="487.97" width="17.24" height="17.79" fill="#7fbecd"/>
<rect x="412.70" y="505.06" width="17.94" height="17.79" fill="#5ea9ca"/>
<rect x="429.94" y="505.06" width="17.94" height="17.79" fill="#5ea9ca"/>
<rect x="447.17" y="505.06" width="17.94" height="17.79" fill="#3d82cb"/>
<rect x="464.41" y="505.06" width="17.94" height="17.79" fill="#4556b9"/>
<rect x="481.64" y="505.06" width="17.94" height="17.79" fill="#423e82"/>
<rect x="498.88" y="505.06" width="17.94" height="17.79" fill="#383561"/>
<rect x="516.12" y="505.06" width="17.94" height="17.79" fill="#333054"/>
<rect x="533.35" y="505.06" width="17.94" height="17.79" fill="#333054"/>
<rect x="550.59" y="505.06" width="17.94" height="17.79" fill="#2f2d49"/>
<rect x="567.82" y="505.06" width="17.94" height="17.79" fill="#46428f"/>
<rect x="585.06" y="505.06" width="17.94" height="17.79" fill="#2f2d49"/>
<rect x="602.30" y="505.06" width="17.94" height="17.79" fill="#413d7b"/>
<rect x="619.53" y="505.06" width="17.94" height="17.79" fill="#3f70cb"/>
<rect x="636.77" y="505.06" width="17.94" height="17.79" fill="#423e82"/>
<rect x="654.00" y="505.06" width="17.94" height="17.79" fill="#3e7dcb"/>
<rect x="671.24" y="505.06" width="17.24" height="17.79" fill="#5ea9ca"/>
<rect x="412.70" y="522.15" width="17.94" height="17.79" fill="#4552b1"/>
<rect x="429.94" y="522.15" width="17.94" height="17.79" fill="#3c8acb"/>
<rect x="447.17" y="522.15" width="17.94" height="17.79" fill="#4263c2"/>
<rect x="464.41" y="522.15" width="17.94" height="17.79" fill="#46428f"/>
<rect x="481.64" y="522.15" width="17.94" height="17.79" fill="#423e7e"/>
<rect x="498.88" y="522.15" width="17.94" height="17.79" fill="#36345e"/>
<rect x="516.12" y="522.15" width="17.94" height="17.79" fill="#302e4d"/>
<rect x="533.35" y="522.15" width="17.94" height="17.79" fill="#2c2a42"/>
<rect x="550.59" y="522.15" width="17.94" height="17.79" fill="#35325a"/>
<rect x="567.82" y="522.15" width="17.94" height="17.79" fill="#333054"/>
<rect x="585.06" y="522.15" width="17.94" height="17.79" fill="#2f2d49"/>
<rect x="602.30" y="522.15" width="17.94" height="17.79" fill="#333054"/>
<rect x="619.53" y="522.15" width="17.94" height="17.79" fill="#2e2c47"/>
<rect x="636.77" y="522.15" width="17.94" height="17.79" fill="#4550ac"/>
<rect x="654.00" y="522.15" width="17.94" height="17.79" fill="#464ca4"/>
<rect x="671.24" y="522.15" width="17.24" height="17.79" fill="#2f2d49"/>
<rect x="412.70" y="539.24" width="17.94" height="17.79" fill="#2c2b44"/>
<rect x="429.94" y="539.24" width="17.94" height="17.79" fill="#3d396e"/>
<rect x="447.17" y="539.24" width="17.94" height="17.79" fill="#35325a"/>
<rect x="464.41" y="539.24" width="17.94" height="17.79" fill="#413d7b"/>
<rect x="481.64" y="539.24" width="17.94" height="17.79" fill="#35325a"/>
<rect x="498.88" y="539.24" width="17.94" height="17.79" fill="#333054"/>
<rect x="516.12" y="539.24" width="17.94" height="17.79" fill="#312f50"/>
<rect x="533.35" y="539.24" width="17.94" height="17.79" fill="#2a293e"/>
<rect x="550.59" y="539.24" width="17.94" height="17.79" fill="#29283a"/>
<rect x="567.82" y="539.24" width="17.94" height="17.79" fill="#2a293e"/>
<rect x="585.06" y="539.24" width="17.94" height="17.79" fill="#2f2d4b"/>
<rect x="602.30" y="539.24" width="17.94" height="17.79" fill="#333054"/>
<rect x="619.53" y="539.24" width="17.94" height="17.79" fill="#403c78"/>
<rect x="636.77" y="539.24" width="17.94" height="17.79" fill="#464ca4"/>
<rect x="654.00" y="539.24" width="17.94" height="17.79" fill="#35325a"/>
<rect x="671.24" y="539.24" width="17.24" height="17.79" fill="#221e20"/>
<rect x="412.70" y="556.33" width="17.94" height="17.79" fill="#444088"/>
<rect x="429.94" y="556.33" width="17.94" height="17.79" fill="#221e20"/>
<rect x="447.17" y="556.33" width="17.94" height="17.79" fill="#3d396e"/>
<rect x="464.41" y="556.33" width="17.94" height="17.79" fill="#3f3b75"/>
<rect x="481.64" y="556.33" width="17.94" height="17.79" fill="#35325a"/>
<rect x="498.88" y="556.33" width="17.94" height="17.79" fill="#2c2b44"/>
<rect x="516.12" y="556.33" width="17.94" height="17.79" fill="#302e4d"/>
<rect x="533.35" y="556.33" width="17.94" height="17.79" fill="#2a293c"/>
<rect x="550.59" y="556.33" width="17.94" height="17.79" fill="#2b2a40"/>
<rect x="567.82" y="556.33" width="17.94" height="17.79" fill="#2c2a42"/>
<rect x="585.06" y="556.33" width="17.94" height="17.79" fill="#2c2a42"/>
<rect x="602.30" y="556.33" width="17.94" height="17.79" fill="#35325a"/>
<rect x="619.53" y="556.33" width="17.94" height="17.79" fill="#383561"/>
<rect x="636.77" y="556.33" width="17.94" height="17.79" fill="#2e2c47"/>
<rect x="654.00" y="556.33" width="17.94" height="17.79" fill="#2e2c47"/>
<rect x="671.24" y="556.33" width="17.24" height="17.79" fill="#423e82"/>
<rect x="412.70" y="573.42" width="17.94" height="17.79" fill="#464697"/>
<rect x="429.94" y="573.42" width="17.94" height="17.79" fill="#3e75cb"/>
<rect x="447.17" y="573.42" width="17.94" height="17.79" fill="#3f3b75"/>
<rect x="464.41" y="573.42" width="17.94" height="17.79" fill="#423e82"/>
<rect x="481.64" y="573.42" width="17.94" height="17.79" fill="#393664"/>
<rect x="498.88" y="573.42" width="17.94" height="17.79" fill="#2c2a42"/>
<rect x="516.12" y="573.42" width="17.94" height="17.79" fill="#2c2a42"/>
<rect x="533.35" y="573.42" width="17.94" height="17.79" fill="#2a293e"/>
<rect x="550.59" y="573.42" width="17.94" height="17.79" fill="#2b2a40"/>
<rect x="567.82" y="573.42" width="17.94" height="17.79" fill="#2c2a42"/>
<rect x="585.06" y="573.42" width="17.94" height="17.79" fill="#2c2a42"/>
<rect x="602.30" y="573.42" width="17.94" height="17.79" fill="#36345e"/>
<rect x="619.53" y="573.42" width="17.94" height="17.79" fill="#302e4d"/>
<rect x="636.77" y="573.42" width="17.94" height="17.79" fill="#3f3b75"/>
<rect x="654.00" y="573.42" width="17.94" height="17.79" fill="#383561"/>
<rect x="671.24" y="573.42" width="17.24" height="17.79" fill="#232229"/>
<rect x="412.70" y="590.51" width="17.94" height="17.79" fill="#445bbd"/>
<rect x="429.94" y="590.51" width="17.94" height="17.79" fill="#2a293e"/>
<rect x="447.17" y="590.51" width="17.94" height="17.79" fill="#464ca4"/>
<rect x="464.41" y="590.51" width="17.94" height="17.79" fill="#403c78"/>
<rect x="481.64" y="590.51" width="17.94" height="17.79" fill="#3a3767"/>
<rect x="498.88" y="590.51" width="17.94" height="17.79" fill="#2c2a42"/>
<rect x="516.12" y="590.51" width="17.94" height="17.79" fill="#2c2a42"/>
<rect x="533.35" y="590.51" width="17.94" height="17.79" fill="#2b2a40"/>
<rect x="550.59" y="590.51" width="17.94" height="17.79" fill="#282736"/>
<rect x="567.82" y="590.51" width="17.94" height="17.79" fill="#2c2a42"/>
<rect x="585.06" y="590.51" width="17.94" height="17.79" fill="#2c2a42"/>
<rect x="602.30" y="590.51" width="17.94" height="17.79" fill="#393664"/>
<rect x="619.53" y="590.51" width="17.94" height="17.79" fill="#333054"/>
<rect x="636.77" y="590.51" width="17.94" height="17.79" fill="#3f3b75"/>
<rect x="654.00" y="590.51" width="17.94" height="17.79" fill="#413d7b"/>
<rect x="671.24" y="590.51" width="17.24" height="17.79" fill="#393664"/>
<rect x="412.70" y="607.60" width="17.94" height="17.79" fill="#403c78"/>
<rect x="429.94" y="607.60" width="17.94" height="17.79" fill="#4556b9"/>
<rect x="447.17" y="607.60" width="17.94" height="17.79" fill="#3f70cb"/>
<rect x="464.41" y="607.60" width="17.94" height="17.79" fill="#454ea8"/>
<rect x="481.64" y="607.60" width="17.94" height="17.79" fill="#282736"/>
<rect x="498.88" y="607.60" width="17.94" height="17.79" fill="#2f2d49"/>
<rect x="516.12" y="607.60" width="17.94" height="17.79" fill="#383561"/>
<rect x="533.35" y="607.60" width="17.94" height="17.79" fill="#29283a"/>
<rect x="550.59" y="607.60" width="17.94" height="17.79" fill="#2f2d49"/>
<rect x="567.82" y="607.60" width="17.94" height="17.79" fill="#2c2a42"/>
<rect x="585.06" y="607.60" width="17.94" height="17.79" fill="#2e2c47"/>
<rect x="602.30" y="607.60" width="17.94" height="17.79" fill="#3a3767"/>
<rect x="619.53" y="607.60" width="17.94" height="17.79" fill="#454ea8"/>
<rect x="636.77" y="607.60" width="17.94" height="17.79" fill="#435ebe"/>
<rect x="654.00" y="607.60" width="17.94" height="17.79" fill="#3c8acb"/>
<rect x="671.24" y="607.60" width="17.24" height="17.79" fill="#3f70cb"/>
<rect x="412.70" y="624.69" width="17.94" height="17.79" fill="#a0d4d4"/>
<rect x="429.94" y="624.69" width="17.94" height="17.79" fill="#84c1cd"/>
<rect x="447.17" y="624.69" width="17.94" height="17.79" fill="#3d85cb"/>
<rect x="464.41" y="624.69" width="17.94" height="17.79" fill="#46428f"/>
<rect x="481.64" y="624.69" width="17.94" height="17.79" fill="#302e4d"/>
<rect x="498.88" y="624.69" width="17.94" height="17.79" fill="#333054"/>
<rect x="516.12" y="624.69" width="17.94" height="17.79" fill="#2e2c47"/>
<rect x="533.35" y="624.69" width="17.94" height="17.79" fill="#2c2a42"/>
<rect x="550.59" y="624.69" width="17.94" height="17.79" fill="#312f50"/>
<rect x="567.82" y="624.69" width="17.94" height="17.79" fill="#2e2c47"/>
<rect x="585.06" y="624.69" width="17.94" height="17.79" fill="#2e2c47"/>
<rect x="602.30" y="624.69" width="17.94" height="17.79" fill="#444088"/>
<rect x="619.53" y="624.69" width="17.94" height="17.79" fill="#454ea8"/>
<rect x="636.77" y="624.69" width="17.94" height="17.79" fill="#3d396e"/>
<rect x="654.00" y="624.69" width="17.94" height="17.79" fill="#55a3c9"/>
<rect x="671.24" y="624.69" width="17.24" height="17.79" fill="#464ca4"/>
<rect x="412.70" y="641.78" width="17.94" height="17.79" fill="#3e7acb"/>
<rect x="429.94" y="641.78" width="17.94" height="17.79" fill="#3d85cb"/>
<rect x="447.17" y="641.78" width="17.94" height="17.79" fill="#3e7acb"/>
<rect x="464.41" y="641.78" width="17.94" height="17.79" fill="#3e75cb"/>
<rect x="481.64" y="641.78" width="17.94" height="17.79" fill="#3e78cb"/>
<rect x="498.88" y="641.78" width="17.94" height="17.79" fill="#423e82"/>
<rect x="516.12" y="641.78" width="17.94" height="17.79" fill="#393664"/>
<rect x="533.35" y="641.78" width="17.94" height="17.79" fill="#383561"/>
<rect x="550.59" y="641.78" width="17.94" height="17.79" fill="#2f2d49"/>
<rect x="567.82" y="641.78" width="17.94" height="17.79" fill="#383561"/>
<rect x="585.06" y="641.78" width="17.94" height="17.79" fill="#413d7b"/>
<rect x="602.30" y="641.78" width="17.94" height="17.79" fill="#444088"/>
<rect x="619.53" y="641.78" width="17.94" height="17.79" fill="#3d396e"/>
<rect x="636.77" y="641.78" width="17.94" height="17.79" fill="#3f70cb"/>
<rect x="654.00" y="641.78" width="17.94" height="17.79" fill="#406bc7"/>
<rect x="671.24" y="641.78" width="17.24" height="17.79" fill="#8fc9d0"/>
<rect x="412.70" y="658.87" width="17.94" height="17.79" fill="#3d80cb"/>
<rect x="429.94" y="658.87" width="17.94" height="17.79" fill="#2d2c45"/>
<rect x="447.17" y="658.87" width="17.94" height="17.79" fill="#9bd0d3"/>
<rect x="464.41" y="658.87" width="17.94" height="17.79" fill="#4166c4"/>
<rect x="481.64" y="658.87" width="17.94" height="17.79" fill="#435ebe"/>
<rect x="498.88" y="658.87" width="17.94" height="17.79" fill="#302e4d"/>
<rect x="516.12" y="658.87" width="17.94" height="17.79" fill="#302e4d"/>
<rect x="533.35" y="658.87" width="17.94" height="17.79" fill="#444088"/>
<rect x="550.59" y="658.87" width="17.94" height="17.79" fill="#3f3b75"/>
<rect x="567.82" y="658.87" width="17.94" height="17.79" fill="#464aa0"/>
<rect x="585.06" y="658.87" width="17.94" height="17.79" fill="#423e82"/>
<rect x="602.30" y="658.87" width="17.94" height="17.79" fill="#3c8acb"/>
<rect x="619.53" y="658.87" width="17.94" height="17.79" fill="#302e4d"/>
<rect x="636.77" y="658.87" width="17.94" height="17.79" fill="#423e82"/>
<rect x="654.00" y="658.87" width="17.94" height="17.79" fill="#8fc9d0"/>
<rect x="671.24" y="658.87" width="17.24" height="17.79" fill="#509ec9"/>
<rect x="412.70" y="675.96" width="17.94" height="17.79" fill="#a0d4d4"/>
<rect x="429.94" y="675.96" width="17.94" height="17.79" fill="#445bbd"/>
<rect x="447.17" y="675.96" width="17.94" height="17.79" fill="#7bbbcc"/>
<rect x="464.41" y="675.96" width="17.94" height="17.79" fill="#4b99ca"/>
<rect x="481.64" y="675.96" width="17.94" height="17.79" fill="#464aa0"/>
<rect x="498.88" y="675.96" width="17.94" height="17.79" fill="#454ea8"/>
<rect x="516.12" y="675.96" width="17.94" height="17.79" fill="#4556b9"/>
<rect x="533.35" y="675.96" width="17.94" height="17.79" fill="#4550ac"/>
<rect x="550.59" y="675.96" width="17.94" height="17.79" fill="#24232b"/>
<rect x="567.82" y="675.96" width="17.94" height="17.79" fill="#2b2a40"/>
<rect x="585.06" y="675.96" width="17.94" height="17.79" fill="#3d82cb"/>
<rect x="602.30" y="675.96" width="17.94" height="17.79" fill="#8fc9d0"/>
<rect x="619.53" y="675.96" width="17.94" height="17.79" fill="#5ea9ca"/>
<rect x="636.77" y="675.96" width="17.94" height="17.79" fill="#4b99ca"/>
<rect x="654.00" y="675.96" width="17.94" height="17.79" fill="#bde7db"/>
<rect x="671.24" y="675.96" width="17.24" height="17.79" fill="#bde7db"/>
<rect x="412.70" y="693.05" width="17.94" height="17.09" fill="#4556b9"/>
<rect x="429.94" y="693.05" width="17.94" height="17.09" fill="#4694ca"/>
<rect x="447.17" y="693.05" width="17.94" height="17.09" fill="#413d7b"/>
<rect x="464.41" y="693.05" width="17.94" height="17.09" fill="#7bbbcc"/>
<rect x="481.64" y="693.05" width="17.94" height="17.09" fill="#3d396e"/>
<rect x="498.88" y="693.05" width="17.94" height="17.09" fill="#4360c0"/>
<rect x="516.12" y="693.05" width="17.94" height="17.09" fill="#4552b1"/>
<rect x="533.35" y="693.05" width="17.94" height="17.09" fill="#3d396e"/>
<rect x="550.59" y="693.05" width="17.94" height="17.09" fill="#282738"/>
<rect x="567.82" y="693.05" width="17.94" height="17.09" fill="#282738"/>
<rect x="585.06" y="693.05" width="17.94" height="17.09" fill="#3d396e"/>
<rect x="602.30" y="693.05" width="17.94" height="17.09" fill="#509ec9"/>
<rect x="619.53" y="693.05" width="17.94" height="17.09" fill="#418fcb"/>
<rect x="636.77" y="693.05" width="17.94" height="17.09" fill="#333054"/>
<rect x="654.00" y="693.05" width="17.94" height="17.09" fill="#bde7db"/>
<rect x="671.24" y="693.05" width="17.24" height="17.09" fill="#bde7db"/>
</g>
<line x1="412.50" y1="711.90" x2="412.50" y2="724.80" stroke="#000" stroke-width="3.2"/>
<line x1="687.20" y1="711.90" x2="700.10" y2="711.90" stroke="#000" stroke-width="3.2"/>
<line x1="467.44" y1="711.90" x2="467.44" y2="719.50" stroke="#000" stroke-width="2.4"/>
<line x1="687.20" y1="656.96" x2="694.80" y2="656.96" stroke="#000" stroke-width="2.4"/>
<line x1="522.38" y1="711.90" x2="522.38" y2="719.50" stroke="#000" stroke-width="2.4"/>
<line x1="687.20" y1="602.02" x2="694.80" y2="602.02" stroke="#000" stroke-width="2.4"/>
<line x1="577.32" y1="711.90" x2="577.32" y2="719.50" stroke="#000" stroke-width="2.4"/>
<line x1="687.20" y1="547.08" x2="694.80" y2="547.08" stroke="#000" stroke-width="2.4"/>
<line x1="632.26" y1="711.90" x2="632.26" y2="719.50" stroke="#000" stroke-width="2.4"/>
<line x1="687.20" y1="492.14" x2="694.80" y2="492.14" stroke="#000" stroke-width="2.4"/>
<line x1="687.20" y1="711.90" x2="687.20" y2="724.80" stroke="#000" stroke-width="3.2"/>
<line x1="687.20" y1="437.20" x2="700.10" y2="437.20" stroke="#000" stroke-width="3.2"/>
<rect x="412.5" y="437.2" width="274.7" height="274.7" fill="none" stroke="#000" stroke-width="3.3"/>
<rect x="810.6" y="212.5" width="21.5" height="169.8" fill="url(#gf)"/>
<polygon points="810.6,213.0 821.35,204.0 832.1,213.0" fill="#fdd3b0"/>
<polygon points="810.6,382.3 810.6,212.5 821.35,204.0 832.1,212.5 832.1,382.3" fill="none" stroke="#000" stroke-width="2.8" stroke-linejoin="miter" stroke-miterlimit="10"/>
<line x1="832.1" y1="212.50" x2="845.6" y2="212.50" stroke="#000" stroke-width="3"/>
<line x1="832.1" y1="297.40" x2="845.6" y2="297.40" stroke="#000" stroke-width="3"/>
<line x1="832.1" y1="382.30" x2="845.6" y2="382.30" stroke="#000" stroke-width="3"/>
<rect x="810.6" y="437.1" width="21.5" height="170.0" fill="url(#gi)"/>
<polygon points="810.6,606.6 821.35,615.6 832.1,606.6" fill="#bde7db"/>
<polygon points="810.6,437.1 810.6,607.1 821.35,615.6 832.1,607.1 832.1,437.1" fill="none" stroke="#000" stroke-width="2.8" stroke-linejoin="miter" stroke-miterlimit="10"/>
<line x1="832.1" y1="437.10" x2="845.6" y2="437.10" stroke="#000" stroke-width="3"/>
<line x1="832.1" y1="522.10" x2="845.6" y2="522.10" stroke="#000" stroke-width="3"/>
<line x1="832.1" y1="607.10" x2="845.6" y2="607.10" stroke="#000" stroke-width="3"/>
<text x="74.62" y="28.40" font-size="38" textLength="79.78" lengthAdjust="spacingAndGlyphs">from</text>
<text x="165.40" y="28.40" font-size="38" textLength="94.70" lengthAdjust="spacingAndGlyphs">initial</text>
<text x="271.41" y="28.40" font-size="38" textLength="75.94" lengthAdjust="spacingAndGlyphs">state</text>
<text x="55.40" y="71.00" font-size="38" textLength="32.60" lengthAdjust="spacingAndGlyphs">to</text>
<text x="99.30" y="71.00" font-size="38" textLength="164.80" lengthAdjust="spacingAndGlyphs">maximum</text>
<text x="274.70" y="71.00" font-size="38" textLength="93.00" lengthAdjust="spacingAndGlyphs">strain</text>
<text x="421.42" y="28.40" font-size="38" textLength="80.09" lengthAdjust="spacingAndGlyphs">from</text>
<text x="511.80" y="28.40" font-size="38" textLength="165.40" lengthAdjust="spacingAndGlyphs">maximum</text>
<text x="416.20" y="71.00" font-size="38" textLength="93.20" lengthAdjust="spacingAndGlyphs">strain</text>
<text x="520.50" y="71.00" font-size="38" textLength="33.12" lengthAdjust="spacingAndGlyphs">to</text>
<text x="563.60" y="71.00" font-size="38" textLength="119.30" lengthAdjust="spacingAndGlyphs">relaxed</text>
<text x="0" y="0" font-size="38" textLength="73.60" lengthAdjust="spacingAndGlyphs" transform="translate(28.40,364.80) rotate(-90)">with</text>
<text x="0" y="0" font-size="38" textLength="155.43" lengthAdjust="spacingAndGlyphs" transform="translate(28.40,280.27) rotate(-90)">cross-slip</text>
<text x="0" y="0" font-size="38" textLength="128.21" lengthAdjust="spacingAndGlyphs" transform="translate(28.40,721.90) rotate(-90)">without</text>
<text x="0" y="0" font-size="38" textLength="155.23" lengthAdjust="spacingAndGlyphs" transform="translate(28.40,582.27) rotate(-90)">cross-slip</text>
<text x="149.09" y="801.60" font-size="38" textLength="20.05" lengthAdjust="spacingAndGlyphs" font-style="italic">x</text>
<text x="181.40" y="801.60" font-size="38" textLength="31.50" lengthAdjust="spacingAndGlyphs">in</text>
<text x="224.41" y="801.60" font-size="38" textLength="51.15" lengthAdjust="spacingAndGlyphs">µm</text>
<text x="486.99" y="801.60" font-size="38" textLength="20.05" lengthAdjust="spacingAndGlyphs" font-style="italic">x</text>
<text x="519.30" y="801.60" font-size="38" textLength="31.50" lengthAdjust="spacingAndGlyphs">in</text>
<text x="562.31" y="801.60" font-size="38" textLength="51.15" lengthAdjust="spacingAndGlyphs">µm</text>
<text x="0" y="0" font-size="38" textLength="16.45" lengthAdjust="spacingAndGlyphs" font-style="italic" transform="translate(759.50,306.49) rotate(-90)">z</text>
<text x="0" y="0" font-size="38" textLength="31.10" lengthAdjust="spacingAndGlyphs" transform="translate(759.50,276.30) rotate(-90)">in</text>
<text x="0" y="0" font-size="38" textLength="50.63" lengthAdjust="spacingAndGlyphs" transform="translate(759.50,232.98) rotate(-90)">µm</text>
<text x="0" y="0" font-size="38" textLength="16.45" lengthAdjust="spacingAndGlyphs" font-style="italic" transform="translate(759.50,636.09) rotate(-90)">z</text>
<text x="0" y="0" font-size="38" textLength="31.10" lengthAdjust="spacingAndGlyphs" transform="translate(759.50,605.90) rotate(-90)">in</text>
<text x="0" y="0" font-size="38" textLength="50.63" lengthAdjust="spacingAndGlyphs" transform="translate(759.50,562.58) rotate(-90)">µm</text>
<text x="74.70" y="765.50" text-anchor="middle" font-size="37.5">0</text>
<text x="349.00" y="765.50" text-anchor="middle" font-size="37.5">5</text>
<text x="412.60" y="765.50" text-anchor="middle" font-size="37.5">0</text>
<text x="687.10" y="765.50" text-anchor="middle" font-size="37.5">5</text>
<text x="712.60" y="121.90" text-anchor="start" font-size="37.5">5</text>
<text x="712.90" y="396.60" text-anchor="start" font-size="37.5">0</text>
<text x="712.60" y="451.50" text-anchor="start" font-size="37.5">5</text>
<text x="712.90" y="726.20" text-anchor="start" font-size="37.5">0</text>
<text x="859.31" y="226.80" font-size="39" textLength="48.49" lengthAdjust="spacingAndGlyphs">3.0</text>
<text x="857.90" y="311.70" font-size="39" textLength="50.35" lengthAdjust="spacingAndGlyphs">1.5</text>
<text x="857.87" y="396.60" font-size="39" textLength="50.25" lengthAdjust="spacingAndGlyphs">0.0</text>
<text x="857.87" y="451.40" font-size="39" textLength="50.25" lengthAdjust="spacingAndGlyphs">0.0</text>
<text x="859.83" y="538.50" font-size="39" textLength="25.84" lengthAdjust="spacingAndGlyphs" style="stroke-width:1.3px">−</text>
<text x="886.97" y="536.40" font-size="39" textLength="50.28" lengthAdjust="spacingAndGlyphs">0.3</text>
<text x="859.83" y="623.50" font-size="39" textLength="25.84" lengthAdjust="spacingAndGlyphs" style="stroke-width:1.3px">−</text>
<text x="886.98" y="621.40" font-size="39" textLength="49.52" lengthAdjust="spacingAndGlyphs">0.6</text>
<text x="0" y="0" font-size="38" textLength="121.62" lengthAdjust="spacingAndGlyphs" transform="translate(992.50,571.50) rotate(-90)">relative</text>
<text x="0" y="0" font-size="38" textLength="163.09" lengthAdjust="spacingAndGlyphs" transform="translate(992.50,439.56) rotate(-90)">difference</text>
<text x="0" y="0" font-size="38" textLength="30.40" lengthAdjust="spacingAndGlyphs" transform="translate(992.50,265.70) rotate(-90)">in</text>
<text x="0" y="0" font-size="38" textLength="73.20" lengthAdjust="spacingAndGlyphs" transform="translate(1041.20,657.60) rotate(-90)">total</text>
<text x="0" y="0" font-size="38" textLength="178.47" lengthAdjust="spacingAndGlyphs" transform="translate(1041.20,573.37) rotate(-90)">dislocation</text>
<text x="0" y="0" font-size="38" textLength="118.68" lengthAdjust="spacingAndGlyphs" transform="translate(1041.20,383.78) rotate(-90)">density</text>
<text x="0" y="0" font-size="38" textLength="30.80" lengthAdjust="spacingAndGlyphs" transform="translate(1041.20,251.90) rotate(-90)">in</text>
<text x="0" y="0" font-size="38" textLength="31.70" lengthAdjust="spacingAndGlyphs" transform="translate(1041.20,210.20) rotate(-90)">m</text>
<text x="0" y="0" font-size="28" textLength="12.07" lengthAdjust="spacingAndGlyphs" style="stroke-width:0.9px" transform="translate(1027.40,176.36) rotate(-90)">−</text>
<text x="0" y="0" font-size="28" textLength="12.95" lengthAdjust="spacingAndGlyphs" transform="translate(1026.60,161.12) rotate(-90)">2</text>
</svg>
</body></html>
